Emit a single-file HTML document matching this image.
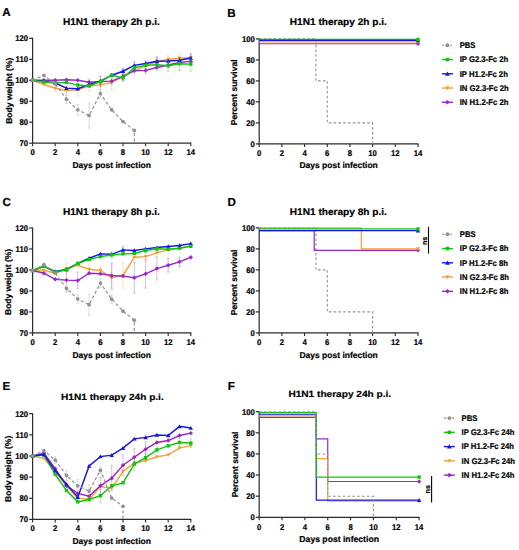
<!DOCTYPE html>
<html><head><meta charset="utf-8"><style>
html,body{margin:0;padding:0;background:#fff;overflow:hidden;width:519px;height:550px;}
svg{display:block;font-family:"Liberation Sans", sans-serif;text-rendering:geometricPrecision;}
</style></head><body>
<svg width="519" height="550" viewBox="0 0 519 550">
<rect width="519" height="550" fill="#fff"/>
<text x="2.30" y="16.40" font-size="11.6" text-anchor="start" font-weight="bold" fill="#000" stroke="#000" stroke-width="0.2">A</text>
<text x="227.20" y="16.80" font-size="11.6" text-anchor="start" font-weight="bold" fill="#000" stroke="#000" stroke-width="0.2">B</text>
<text x="2.40" y="205.80" font-size="11.6" text-anchor="start" font-weight="bold" fill="#000" stroke="#000" stroke-width="0.2">C</text>
<text x="227.50" y="206.00" font-size="11.6" text-anchor="start" font-weight="bold" fill="#000" stroke="#000" stroke-width="0.2">D</text>
<text x="2.50" y="389.80" font-size="11.6" text-anchor="start" font-weight="bold" fill="#000" stroke="#000" stroke-width="0.2">E</text>
<text x="227.80" y="389.60" font-size="11.6" text-anchor="start" font-weight="bold" fill="#000" stroke="#000" stroke-width="0.2">F</text>
<text x="111.40" y="25.10" font-size="10.1" text-anchor="middle" font-weight="bold" fill="#000" stroke="#000" stroke-width="0.2" transform="translate(0 1.004) scale(1 0.96)">H1N1 therapy 2h p.i.</text>
<text x="338.30" y="25.30" font-size="10.1" text-anchor="middle" font-weight="bold" fill="#000" stroke="#000" stroke-width="0.2" transform="translate(0 1.012) scale(1 0.96)">H1N1 therapy 2h p.i.</text>
<text x="111.40" y="214.80" font-size="10.1" text-anchor="middle" font-weight="bold" fill="#000" stroke="#000" stroke-width="0.2" transform="translate(0 8.592) scale(1 0.96)">H1N1 therapy 8h p.i.</text>
<text x="338.30" y="214.80" font-size="10.1" text-anchor="middle" font-weight="bold" fill="#000" stroke="#000" stroke-width="0.2" transform="translate(0 8.592) scale(1 0.96)">H1N1 therapy 8h p.i.</text>
<text x="112.40" y="400.20" font-size="10.1" text-anchor="middle" font-weight="bold" fill="#000" stroke="#000" stroke-width="0.2" transform="translate(0 44.022) scale(1 0.89)">H1N1 therapy 24h p.i.</text>
<text x="339.75" y="397.20" font-size="10.1" text-anchor="middle" font-weight="bold" fill="#000" stroke="#000" stroke-width="0.2" transform="translate(0 43.692) scale(1 0.89)">H1N1 therapy 24h p.i.</text>
<line x1="32.60" y1="37.80" x2="32.60" y2="143.80" stroke="#2a2a2a" stroke-width="1.2" stroke-linecap="butt"/>
<line x1="32.00" y1="143.20" x2="191.30" y2="143.20" stroke="#2a2a2a" stroke-width="1.2" stroke-linecap="butt"/>
<line x1="29.20" y1="143.20" x2="32.60" y2="143.20" stroke="#2a2a2a" stroke-width="1.2" stroke-linecap="butt"/>
<text x="28.00" y="146.10" font-size="7.7" text-anchor="end" font-weight="bold" fill="#000" stroke="#000" stroke-width="0.2" transform="translate(0 -11.688) scale(1 1.08)">70</text>
<line x1="29.20" y1="122.22" x2="32.60" y2="122.22" stroke="#2a2a2a" stroke-width="1.2" stroke-linecap="butt"/>
<text x="28.00" y="125.12" font-size="7.7" text-anchor="end" font-weight="bold" fill="#000" stroke="#000" stroke-width="0.2" transform="translate(0 -10.010) scale(1 1.08)">80</text>
<line x1="29.20" y1="101.24" x2="32.60" y2="101.24" stroke="#2a2a2a" stroke-width="1.2" stroke-linecap="butt"/>
<text x="28.00" y="104.14" font-size="7.7" text-anchor="end" font-weight="bold" fill="#000" stroke="#000" stroke-width="0.2" transform="translate(0 -8.331) scale(1 1.08)">90</text>
<line x1="29.20" y1="80.26" x2="32.60" y2="80.26" stroke="#2a2a2a" stroke-width="1.2" stroke-linecap="butt"/>
<text x="28.00" y="83.16" font-size="7.7" text-anchor="end" font-weight="bold" fill="#000" stroke="#000" stroke-width="0.2" transform="translate(0 -6.653) scale(1 1.08)">100</text>
<line x1="29.20" y1="59.28" x2="32.60" y2="59.28" stroke="#2a2a2a" stroke-width="1.2" stroke-linecap="butt"/>
<text x="28.00" y="62.18" font-size="7.7" text-anchor="end" font-weight="bold" fill="#000" stroke="#000" stroke-width="0.2" transform="translate(0 -4.974) scale(1 1.08)">110</text>
<line x1="29.20" y1="38.30" x2="32.60" y2="38.30" stroke="#2a2a2a" stroke-width="1.2" stroke-linecap="butt"/>
<text x="28.00" y="41.20" font-size="7.7" text-anchor="end" font-weight="bold" fill="#000" stroke="#000" stroke-width="0.2" transform="translate(0 -3.296) scale(1 1.08)">120</text>
<line x1="32.60" y1="143.20" x2="32.60" y2="146.20" stroke="#2a2a2a" stroke-width="1.1" stroke-linecap="butt"/>
<text x="32.60" y="155.00" font-size="7.7" text-anchor="middle" font-weight="bold" fill="#000" stroke="#000" stroke-width="0.2" transform="translate(0 -12.400) scale(1 1.08)">0</text>
<line x1="55.20" y1="143.20" x2="55.20" y2="146.20" stroke="#2a2a2a" stroke-width="1.1" stroke-linecap="butt"/>
<text x="55.20" y="155.00" font-size="7.7" text-anchor="middle" font-weight="bold" fill="#000" stroke="#000" stroke-width="0.2" transform="translate(0 -12.400) scale(1 1.08)">2</text>
<line x1="77.80" y1="143.20" x2="77.80" y2="146.20" stroke="#2a2a2a" stroke-width="1.1" stroke-linecap="butt"/>
<text x="77.80" y="155.00" font-size="7.7" text-anchor="middle" font-weight="bold" fill="#000" stroke="#000" stroke-width="0.2" transform="translate(0 -12.400) scale(1 1.08)">4</text>
<line x1="100.40" y1="143.20" x2="100.40" y2="146.20" stroke="#2a2a2a" stroke-width="1.1" stroke-linecap="butt"/>
<text x="100.40" y="155.00" font-size="7.7" text-anchor="middle" font-weight="bold" fill="#000" stroke="#000" stroke-width="0.2" transform="translate(0 -12.400) scale(1 1.08)">6</text>
<line x1="123.00" y1="143.20" x2="123.00" y2="146.20" stroke="#2a2a2a" stroke-width="1.1" stroke-linecap="butt"/>
<text x="123.00" y="155.00" font-size="7.7" text-anchor="middle" font-weight="bold" fill="#000" stroke="#000" stroke-width="0.2" transform="translate(0 -12.400) scale(1 1.08)">8</text>
<line x1="145.60" y1="143.20" x2="145.60" y2="146.20" stroke="#2a2a2a" stroke-width="1.1" stroke-linecap="butt"/>
<text x="145.60" y="155.00" font-size="7.7" text-anchor="middle" font-weight="bold" fill="#000" stroke="#000" stroke-width="0.2" transform="translate(0 -12.400) scale(1 1.08)">10</text>
<line x1="168.20" y1="143.20" x2="168.20" y2="146.20" stroke="#2a2a2a" stroke-width="1.1" stroke-linecap="butt"/>
<text x="168.20" y="155.00" font-size="7.7" text-anchor="middle" font-weight="bold" fill="#000" stroke="#000" stroke-width="0.2" transform="translate(0 -12.400) scale(1 1.08)">12</text>
<line x1="190.80" y1="143.20" x2="190.80" y2="146.20" stroke="#2a2a2a" stroke-width="1.1" stroke-linecap="butt"/>
<text x="190.80" y="155.00" font-size="7.7" text-anchor="middle" font-weight="bold" fill="#000" stroke="#000" stroke-width="0.2" transform="translate(0 -12.400) scale(1 1.08)">14</text>
<text x="111.70" y="167.70" font-size="8.5" text-anchor="middle" font-weight="bold" fill="#000" stroke="#000" stroke-width="0.2">Days post infection</text>
<text x="11.90" y="90.75" font-size="8.5" text-anchor="middle" font-weight="bold" fill="#000" stroke="#000" stroke-width="0.2" transform="rotate(-90 11.9 90.75)">Body weight (%)</text>
<g opacity="0.45">
<line x1="55.20" y1="85.09" x2="55.20" y2="91.38" stroke="#f5a138" stroke-width="0.7" stroke-linecap="butt"/>
<line x1="53.90" y1="85.09" x2="56.50" y2="85.09" stroke="#f5a138" stroke-width="0.7" stroke-linecap="butt"/>
<line x1="53.90" y1="91.38" x2="56.50" y2="91.38" stroke="#f5a138" stroke-width="0.7" stroke-linecap="butt"/>
</g>
<g opacity="0.45">
<line x1="66.50" y1="85.19" x2="66.50" y2="95.68" stroke="#f5a138" stroke-width="0.7" stroke-linecap="butt"/>
<line x1="65.20" y1="85.19" x2="67.80" y2="85.19" stroke="#f5a138" stroke-width="0.7" stroke-linecap="butt"/>
<line x1="65.20" y1="95.68" x2="67.80" y2="95.68" stroke="#f5a138" stroke-width="0.7" stroke-linecap="butt"/>
</g>
<g opacity="0.45">
<line x1="77.80" y1="83.41" x2="77.80" y2="95.99" stroke="#f5a138" stroke-width="0.7" stroke-linecap="butt"/>
<line x1="76.50" y1="83.41" x2="79.10" y2="83.41" stroke="#f5a138" stroke-width="0.7" stroke-linecap="butt"/>
<line x1="76.50" y1="95.99" x2="79.10" y2="95.99" stroke="#f5a138" stroke-width="0.7" stroke-linecap="butt"/>
</g>
<g opacity="0.45">
<line x1="89.10" y1="80.68" x2="89.10" y2="91.17" stroke="#f5a138" stroke-width="0.7" stroke-linecap="butt"/>
<line x1="87.80" y1="80.68" x2="90.40" y2="80.68" stroke="#f5a138" stroke-width="0.7" stroke-linecap="butt"/>
<line x1="87.80" y1="91.17" x2="90.40" y2="91.17" stroke="#f5a138" stroke-width="0.7" stroke-linecap="butt"/>
</g>
<g opacity="0.45">
<line x1="100.40" y1="76.27" x2="100.40" y2="93.48" stroke="#f5a138" stroke-width="0.7" stroke-linecap="butt"/>
<line x1="99.10" y1="76.27" x2="101.70" y2="76.27" stroke="#f5a138" stroke-width="0.7" stroke-linecap="butt"/>
<line x1="99.10" y1="93.48" x2="101.70" y2="93.48" stroke="#f5a138" stroke-width="0.7" stroke-linecap="butt"/>
</g>
<g opacity="0.45">
<line x1="111.70" y1="75.43" x2="111.70" y2="89.70" stroke="#f5a138" stroke-width="0.7" stroke-linecap="butt"/>
<line x1="110.40" y1="75.43" x2="113.00" y2="75.43" stroke="#f5a138" stroke-width="0.7" stroke-linecap="butt"/>
<line x1="110.40" y1="89.70" x2="113.00" y2="89.70" stroke="#f5a138" stroke-width="0.7" stroke-linecap="butt"/>
</g>
<g opacity="0.45">
<line x1="134.30" y1="65.99" x2="134.30" y2="75.64" stroke="#f5a138" stroke-width="0.7" stroke-linecap="butt"/>
<line x1="133.00" y1="65.99" x2="135.60" y2="65.99" stroke="#f5a138" stroke-width="0.7" stroke-linecap="butt"/>
<line x1="133.00" y1="75.64" x2="135.60" y2="75.64" stroke="#f5a138" stroke-width="0.7" stroke-linecap="butt"/>
</g>
<g opacity="0.45">
<line x1="145.60" y1="62.64" x2="145.60" y2="68.93" stroke="#f5a138" stroke-width="0.7" stroke-linecap="butt"/>
<line x1="144.30" y1="62.64" x2="146.90" y2="62.64" stroke="#f5a138" stroke-width="0.7" stroke-linecap="butt"/>
<line x1="144.30" y1="68.93" x2="146.90" y2="68.93" stroke="#f5a138" stroke-width="0.7" stroke-linecap="butt"/>
</g>
<g opacity="0.45">
<line x1="156.90" y1="57.81" x2="156.90" y2="65.36" stroke="#f5a138" stroke-width="0.7" stroke-linecap="butt"/>
<line x1="155.60" y1="57.81" x2="158.20" y2="57.81" stroke="#f5a138" stroke-width="0.7" stroke-linecap="butt"/>
<line x1="155.60" y1="65.36" x2="158.20" y2="65.36" stroke="#f5a138" stroke-width="0.7" stroke-linecap="butt"/>
</g>
<g opacity="0.45">
<line x1="168.20" y1="55.92" x2="168.20" y2="62.64" stroke="#f5a138" stroke-width="0.7" stroke-linecap="butt"/>
<line x1="166.90" y1="55.92" x2="169.50" y2="55.92" stroke="#f5a138" stroke-width="0.7" stroke-linecap="butt"/>
<line x1="166.90" y1="62.64" x2="169.50" y2="62.64" stroke="#f5a138" stroke-width="0.7" stroke-linecap="butt"/>
</g>
<g opacity="0.45">
<line x1="179.50" y1="53.62" x2="179.50" y2="62.85" stroke="#f5a138" stroke-width="0.7" stroke-linecap="butt"/>
<line x1="178.20" y1="53.62" x2="180.80" y2="53.62" stroke="#f5a138" stroke-width="0.7" stroke-linecap="butt"/>
<line x1="178.20" y1="62.85" x2="180.80" y2="62.85" stroke="#f5a138" stroke-width="0.7" stroke-linecap="butt"/>
</g>
<g opacity="0.45">
<line x1="190.80" y1="52.99" x2="190.80" y2="62.22" stroke="#f5a138" stroke-width="0.7" stroke-linecap="butt"/>
<line x1="189.50" y1="52.99" x2="192.10" y2="52.99" stroke="#f5a138" stroke-width="0.7" stroke-linecap="butt"/>
<line x1="189.50" y1="62.22" x2="192.10" y2="62.22" stroke="#f5a138" stroke-width="0.7" stroke-linecap="butt"/>
</g>
<polyline points="32.60,80.26 43.90,84.56 55.20,88.23 66.50,90.44 77.80,89.70 89.10,85.92 100.40,84.88 111.70,82.57 123.00,76.06 134.30,70.82 145.60,65.78 156.90,61.59 168.20,59.28 179.50,58.23 190.80,57.60" fill="none" stroke="#f5a138" stroke-width="1.45" stroke-linejoin="miter"/>
<polygon points="32.60,82.26 34.60,78.66 30.60,78.66" fill="#f5a138"/>
<polygon points="43.90,86.56 45.90,82.96 41.90,82.96" fill="#f5a138"/>
<polygon points="55.20,90.23 57.20,86.63 53.20,86.63" fill="#f5a138"/>
<polygon points="66.50,92.44 68.50,88.84 64.50,88.84" fill="#f5a138"/>
<polygon points="77.80,91.70 79.80,88.10 75.80,88.10" fill="#f5a138"/>
<polygon points="89.10,87.92 91.10,84.32 87.10,84.32" fill="#f5a138"/>
<polygon points="100.40,86.88 102.40,83.28 98.40,83.28" fill="#f5a138"/>
<polygon points="111.70,84.57 113.70,80.97 109.70,80.97" fill="#f5a138"/>
<polygon points="123.00,78.06 125.00,74.46 121.00,74.46" fill="#f5a138"/>
<polygon points="134.30,72.82 136.30,69.22 132.30,69.22" fill="#f5a138"/>
<polygon points="145.60,67.78 147.60,64.18 143.60,64.18" fill="#f5a138"/>
<polygon points="156.90,63.59 158.90,59.99 154.90,59.99" fill="#f5a138"/>
<polygon points="168.20,61.28 170.20,57.68 166.20,57.68" fill="#f5a138"/>
<polygon points="179.50,60.23 181.50,56.63 177.50,56.63" fill="#f5a138"/>
<polygon points="190.80,59.60 192.80,56.00 188.80,56.00" fill="#f5a138"/>
<g opacity="0.45">
<line x1="89.10" y1="79.00" x2="89.10" y2="85.30" stroke="#9a28c8" stroke-width="0.7" stroke-linecap="butt"/>
<line x1="87.80" y1="79.00" x2="90.40" y2="79.00" stroke="#9a28c8" stroke-width="0.7" stroke-linecap="butt"/>
<line x1="87.80" y1="85.30" x2="90.40" y2="85.30" stroke="#9a28c8" stroke-width="0.7" stroke-linecap="butt"/>
</g>
<g opacity="0.45">
<line x1="100.40" y1="76.27" x2="100.40" y2="86.76" stroke="#9a28c8" stroke-width="0.7" stroke-linecap="butt"/>
<line x1="99.10" y1="76.27" x2="101.70" y2="76.27" stroke="#9a28c8" stroke-width="0.7" stroke-linecap="butt"/>
<line x1="99.10" y1="86.76" x2="101.70" y2="86.76" stroke="#9a28c8" stroke-width="0.7" stroke-linecap="butt"/>
</g>
<g opacity="0.45">
<line x1="111.70" y1="77.95" x2="111.70" y2="84.25" stroke="#9a28c8" stroke-width="0.7" stroke-linecap="butt"/>
<line x1="110.40" y1="77.95" x2="113.00" y2="77.95" stroke="#9a28c8" stroke-width="0.7" stroke-linecap="butt"/>
<line x1="110.40" y1="84.25" x2="113.00" y2="84.25" stroke="#9a28c8" stroke-width="0.7" stroke-linecap="butt"/>
</g>
<g opacity="0.45">
<line x1="123.00" y1="72.29" x2="123.00" y2="80.68" stroke="#9a28c8" stroke-width="0.7" stroke-linecap="butt"/>
<line x1="121.70" y1="72.29" x2="124.30" y2="72.29" stroke="#9a28c8" stroke-width="0.7" stroke-linecap="butt"/>
<line x1="121.70" y1="80.68" x2="124.30" y2="80.68" stroke="#9a28c8" stroke-width="0.7" stroke-linecap="butt"/>
</g>
<g opacity="0.45">
<line x1="145.60" y1="67.04" x2="145.60" y2="73.76" stroke="#9a28c8" stroke-width="0.7" stroke-linecap="butt"/>
<line x1="144.30" y1="67.04" x2="146.90" y2="67.04" stroke="#9a28c8" stroke-width="0.7" stroke-linecap="butt"/>
<line x1="144.30" y1="73.76" x2="146.90" y2="73.76" stroke="#9a28c8" stroke-width="0.7" stroke-linecap="butt"/>
</g>
<polyline points="32.60,80.26 43.90,80.26 55.20,80.20 66.50,79.76 77.80,80.26 89.10,82.15 100.40,81.52 111.70,81.10 123.00,76.48 134.30,70.71 145.60,70.40 156.90,67.46 168.20,64.94 179.50,62.43 190.80,61.38" fill="none" stroke="#9a28c8" stroke-width="1.45" stroke-linejoin="miter"/>
<polygon points="32.60,78.06 34.80,80.26 32.60,82.46 30.40,80.26" fill="#9a28c8"/>
<polygon points="43.90,78.06 46.10,80.26 43.90,82.46 41.70,80.26" fill="#9a28c8"/>
<polygon points="55.20,78.00 57.40,80.20 55.20,82.40 53.00,80.20" fill="#9a28c8"/>
<polygon points="66.50,77.56 68.70,79.76 66.50,81.96 64.30,79.76" fill="#9a28c8"/>
<polygon points="77.80,78.06 80.00,80.26 77.80,82.46 75.60,80.26" fill="#9a28c8"/>
<polygon points="89.10,79.95 91.30,82.15 89.10,84.35 86.90,82.15" fill="#9a28c8"/>
<polygon points="100.40,79.32 102.60,81.52 100.40,83.72 98.20,81.52" fill="#9a28c8"/>
<polygon points="111.70,78.90 113.90,81.10 111.70,83.30 109.50,81.10" fill="#9a28c8"/>
<polygon points="123.00,74.28 125.20,76.48 123.00,78.68 120.80,76.48" fill="#9a28c8"/>
<polygon points="134.30,68.51 136.50,70.71 134.30,72.91 132.10,70.71" fill="#9a28c8"/>
<polygon points="145.60,68.20 147.80,70.40 145.60,72.60 143.40,70.40" fill="#9a28c8"/>
<polygon points="156.90,65.26 159.10,67.46 156.90,69.66 154.70,67.46" fill="#9a28c8"/>
<polygon points="168.20,62.74 170.40,64.94 168.20,67.14 166.00,64.94" fill="#9a28c8"/>
<polygon points="179.50,60.23 181.70,62.43 179.50,64.63 177.30,62.43" fill="#9a28c8"/>
<polygon points="190.80,59.18 193.00,61.38 190.80,63.58 188.60,61.38" fill="#9a28c8"/>
<g opacity="0.45">
<line x1="123.00" y1="68.30" x2="123.00" y2="74.18" stroke="#1414e6" stroke-width="0.7" stroke-linecap="butt"/>
<line x1="121.70" y1="68.30" x2="124.30" y2="68.30" stroke="#1414e6" stroke-width="0.7" stroke-linecap="butt"/>
<line x1="121.70" y1="74.18" x2="124.30" y2="74.18" stroke="#1414e6" stroke-width="0.7" stroke-linecap="butt"/>
</g>
<g opacity="0.45">
<line x1="134.30" y1="61.80" x2="134.30" y2="68.93" stroke="#1414e6" stroke-width="0.7" stroke-linecap="butt"/>
<line x1="133.00" y1="61.80" x2="135.60" y2="61.80" stroke="#1414e6" stroke-width="0.7" stroke-linecap="butt"/>
<line x1="133.00" y1="68.93" x2="135.60" y2="68.93" stroke="#1414e6" stroke-width="0.7" stroke-linecap="butt"/>
</g>
<g opacity="0.45">
<line x1="145.60" y1="60.96" x2="145.60" y2="65.99" stroke="#1414e6" stroke-width="0.7" stroke-linecap="butt"/>
<line x1="144.30" y1="60.96" x2="146.90" y2="60.96" stroke="#1414e6" stroke-width="0.7" stroke-linecap="butt"/>
<line x1="144.30" y1="65.99" x2="146.90" y2="65.99" stroke="#1414e6" stroke-width="0.7" stroke-linecap="butt"/>
</g>
<g opacity="0.45">
<line x1="156.90" y1="56.97" x2="156.90" y2="65.36" stroke="#1414e6" stroke-width="0.7" stroke-linecap="butt"/>
<line x1="155.60" y1="56.97" x2="158.20" y2="56.97" stroke="#1414e6" stroke-width="0.7" stroke-linecap="butt"/>
<line x1="155.60" y1="65.36" x2="158.20" y2="65.36" stroke="#1414e6" stroke-width="0.7" stroke-linecap="butt"/>
</g>
<g opacity="0.45">
<line x1="179.50" y1="57.71" x2="179.50" y2="62.74" stroke="#1414e6" stroke-width="0.7" stroke-linecap="butt"/>
<line x1="178.20" y1="57.71" x2="180.80" y2="57.71" stroke="#1414e6" stroke-width="0.7" stroke-linecap="butt"/>
<line x1="178.20" y1="62.74" x2="180.80" y2="62.74" stroke="#1414e6" stroke-width="0.7" stroke-linecap="butt"/>
</g>
<g opacity="0.45">
<line x1="190.80" y1="54.24" x2="190.80" y2="61.80" stroke="#1414e6" stroke-width="0.7" stroke-linecap="butt"/>
<line x1="189.50" y1="54.24" x2="192.10" y2="54.24" stroke="#1414e6" stroke-width="0.7" stroke-linecap="butt"/>
<line x1="189.50" y1="61.80" x2="192.10" y2="61.80" stroke="#1414e6" stroke-width="0.7" stroke-linecap="butt"/>
</g>
<polyline points="32.60,80.26 43.90,81.10 55.20,82.99 66.50,88.13 77.80,88.65 89.10,84.46 100.40,81.10 111.70,75.22 123.00,71.24 134.30,65.36 145.60,63.48 156.90,61.17 168.20,60.96 179.50,60.22 190.80,58.02" fill="none" stroke="#1414e6" stroke-width="1.45" stroke-linejoin="miter"/>
<polygon points="32.60,78.06 34.80,82.02 30.40,82.02" fill="#1414e6"/>
<polygon points="43.90,78.90 46.10,82.86 41.70,82.86" fill="#1414e6"/>
<polygon points="55.20,80.79 57.40,84.75 53.00,84.75" fill="#1414e6"/>
<polygon points="66.50,85.93 68.70,89.89 64.30,89.89" fill="#1414e6"/>
<polygon points="77.80,86.45 80.00,90.41 75.60,90.41" fill="#1414e6"/>
<polygon points="89.10,82.26 91.30,86.22 86.90,86.22" fill="#1414e6"/>
<polygon points="100.40,78.90 102.60,82.86 98.20,82.86" fill="#1414e6"/>
<polygon points="111.70,73.02 113.90,76.98 109.50,76.98" fill="#1414e6"/>
<polygon points="123.00,69.04 125.20,73.00 120.80,73.00" fill="#1414e6"/>
<polygon points="134.30,63.16 136.50,67.12 132.10,67.12" fill="#1414e6"/>
<polygon points="145.60,61.28 147.80,65.24 143.40,65.24" fill="#1414e6"/>
<polygon points="156.90,58.97 159.10,62.93 154.70,62.93" fill="#1414e6"/>
<polygon points="168.20,58.76 170.40,62.72 166.00,62.72" fill="#1414e6"/>
<polygon points="179.50,58.02 181.70,61.98 177.30,61.98" fill="#1414e6"/>
<polygon points="190.80,55.82 193.00,59.78 188.60,59.78" fill="#1414e6"/>
<g opacity="0.45">
<line x1="123.00" y1="74.81" x2="123.00" y2="81.10" stroke="#12c412" stroke-width="0.7" stroke-linecap="butt"/>
<line x1="121.70" y1="74.81" x2="124.30" y2="74.81" stroke="#12c412" stroke-width="0.7" stroke-linecap="butt"/>
<line x1="121.70" y1="81.10" x2="124.30" y2="81.10" stroke="#12c412" stroke-width="0.7" stroke-linecap="butt"/>
</g>
<g opacity="0.45">
<line x1="156.90" y1="59.38" x2="156.90" y2="70.29" stroke="#12c412" stroke-width="0.7" stroke-linecap="butt"/>
<line x1="155.60" y1="59.38" x2="158.20" y2="59.38" stroke="#12c412" stroke-width="0.7" stroke-linecap="butt"/>
<line x1="155.60" y1="70.29" x2="158.20" y2="70.29" stroke="#12c412" stroke-width="0.7" stroke-linecap="butt"/>
</g>
<g opacity="0.45">
<line x1="168.20" y1="60.12" x2="168.20" y2="71.45" stroke="#12c412" stroke-width="0.7" stroke-linecap="butt"/>
<line x1="166.90" y1="60.12" x2="169.50" y2="60.12" stroke="#12c412" stroke-width="0.7" stroke-linecap="butt"/>
<line x1="166.90" y1="71.45" x2="169.50" y2="71.45" stroke="#12c412" stroke-width="0.7" stroke-linecap="butt"/>
</g>
<g opacity="0.45">
<line x1="179.50" y1="56.97" x2="179.50" y2="70.40" stroke="#12c412" stroke-width="0.7" stroke-linecap="butt"/>
<line x1="178.20" y1="56.97" x2="180.80" y2="56.97" stroke="#12c412" stroke-width="0.7" stroke-linecap="butt"/>
<line x1="178.20" y1="70.40" x2="180.80" y2="70.40" stroke="#12c412" stroke-width="0.7" stroke-linecap="butt"/>
</g>
<g opacity="0.45">
<line x1="190.80" y1="56.97" x2="190.80" y2="71.24" stroke="#12c412" stroke-width="0.7" stroke-linecap="butt"/>
<line x1="189.50" y1="56.97" x2="192.10" y2="56.97" stroke="#12c412" stroke-width="0.7" stroke-linecap="butt"/>
<line x1="189.50" y1="71.24" x2="192.10" y2="71.24" stroke="#12c412" stroke-width="0.7" stroke-linecap="butt"/>
</g>
<polyline points="32.60,80.26 43.90,82.04 55.20,82.67 66.50,82.36 77.80,85.09 89.10,85.92 100.40,81.52 111.70,75.01 123.00,77.95 134.30,67.67 145.60,65.36 156.90,64.84 168.20,65.78 179.50,63.69 190.80,64.11" fill="none" stroke="#12c412" stroke-width="1.45" stroke-linejoin="miter"/>
<rect x="30.90" y="78.56" width="3.40" height="3.40" fill="#12c412"/>
<rect x="42.20" y="80.34" width="3.40" height="3.40" fill="#12c412"/>
<rect x="53.50" y="80.97" width="3.40" height="3.40" fill="#12c412"/>
<rect x="64.80" y="80.66" width="3.40" height="3.40" fill="#12c412"/>
<rect x="76.10" y="83.39" width="3.40" height="3.40" fill="#12c412"/>
<rect x="87.40" y="84.22" width="3.40" height="3.40" fill="#12c412"/>
<rect x="98.70" y="79.82" width="3.40" height="3.40" fill="#12c412"/>
<rect x="110.00" y="73.31" width="3.40" height="3.40" fill="#12c412"/>
<rect x="121.30" y="76.25" width="3.40" height="3.40" fill="#12c412"/>
<rect x="132.60" y="65.97" width="3.40" height="3.40" fill="#12c412"/>
<rect x="143.90" y="63.66" width="3.40" height="3.40" fill="#12c412"/>
<rect x="155.20" y="63.14" width="3.40" height="3.40" fill="#12c412"/>
<rect x="166.50" y="64.08" width="3.40" height="3.40" fill="#12c412"/>
<rect x="177.80" y="61.99" width="3.40" height="3.40" fill="#12c412"/>
<rect x="189.10" y="62.41" width="3.40" height="3.40" fill="#12c412"/>
<g opacity="0.45">
<line x1="66.50" y1="95.16" x2="66.50" y2="103.55" stroke="#929292" stroke-width="0.7" stroke-linecap="butt"/>
<line x1="65.20" y1="95.16" x2="67.80" y2="95.16" stroke="#929292" stroke-width="0.7" stroke-linecap="butt"/>
<line x1="65.20" y1="103.55" x2="67.80" y2="103.55" stroke="#929292" stroke-width="0.7" stroke-linecap="butt"/>
</g>
<g opacity="0.45">
<line x1="77.80" y1="104.60" x2="77.80" y2="115.09" stroke="#929292" stroke-width="0.7" stroke-linecap="butt"/>
<line x1="76.50" y1="104.60" x2="79.10" y2="104.60" stroke="#929292" stroke-width="0.7" stroke-linecap="butt"/>
<line x1="76.50" y1="115.09" x2="79.10" y2="115.09" stroke="#929292" stroke-width="0.7" stroke-linecap="butt"/>
</g>
<g opacity="0.45">
<line x1="89.10" y1="102.92" x2="89.10" y2="128.09" stroke="#929292" stroke-width="0.7" stroke-linecap="butt"/>
<line x1="87.80" y1="102.92" x2="90.40" y2="102.92" stroke="#929292" stroke-width="0.7" stroke-linecap="butt"/>
<line x1="87.80" y1="128.09" x2="90.40" y2="128.09" stroke="#929292" stroke-width="0.7" stroke-linecap="butt"/>
</g>
<g opacity="0.45">
<line x1="100.40" y1="89.49" x2="100.40" y2="97.88" stroke="#929292" stroke-width="0.7" stroke-linecap="butt"/>
<line x1="99.10" y1="89.49" x2="101.70" y2="89.49" stroke="#929292" stroke-width="0.7" stroke-linecap="butt"/>
<line x1="99.10" y1="97.88" x2="101.70" y2="97.88" stroke="#929292" stroke-width="0.7" stroke-linecap="butt"/>
</g>
<polyline points="32.60,80.26 43.90,75.43 55.20,83.83 66.50,99.35 77.80,109.84 89.10,115.51 100.40,93.69 111.70,109.84 123.00,121.59 134.30,130.40 134.30,143.20" fill="none" stroke="#929292" stroke-width="1.2" stroke-dasharray="3.2,2.2" stroke-linejoin="miter"/>
<circle cx="32.60" cy="80.26" r="1.85" fill="#929292"/>
<circle cx="43.90" cy="75.43" r="1.85" fill="#929292"/>
<circle cx="55.20" cy="83.83" r="1.85" fill="#929292"/>
<circle cx="66.50" cy="99.35" r="1.85" fill="#929292"/>
<circle cx="77.80" cy="109.84" r="1.85" fill="#929292"/>
<circle cx="89.10" cy="115.51" r="1.85" fill="#929292"/>
<circle cx="100.40" cy="93.69" r="1.85" fill="#929292"/>
<circle cx="111.70" cy="109.84" r="1.85" fill="#929292"/>
<circle cx="123.00" cy="121.59" r="1.85" fill="#929292"/>
<circle cx="134.30" cy="130.40" r="1.85" fill="#929292"/>
<line x1="32.60" y1="227.50" x2="32.60" y2="333.50" stroke="#2a2a2a" stroke-width="1.2" stroke-linecap="butt"/>
<line x1="32.00" y1="332.90" x2="191.30" y2="332.90" stroke="#2a2a2a" stroke-width="1.2" stroke-linecap="butt"/>
<line x1="29.20" y1="332.90" x2="32.60" y2="332.90" stroke="#2a2a2a" stroke-width="1.2" stroke-linecap="butt"/>
<text x="28.00" y="335.80" font-size="7.7" text-anchor="end" font-weight="bold" fill="#000" stroke="#000" stroke-width="0.2" transform="translate(0 -26.864) scale(1 1.08)">70</text>
<line x1="29.20" y1="311.92" x2="32.60" y2="311.92" stroke="#2a2a2a" stroke-width="1.2" stroke-linecap="butt"/>
<text x="28.00" y="314.82" font-size="7.7" text-anchor="end" font-weight="bold" fill="#000" stroke="#000" stroke-width="0.2" transform="translate(0 -25.186) scale(1 1.08)">80</text>
<line x1="29.20" y1="290.94" x2="32.60" y2="290.94" stroke="#2a2a2a" stroke-width="1.2" stroke-linecap="butt"/>
<text x="28.00" y="293.84" font-size="7.7" text-anchor="end" font-weight="bold" fill="#000" stroke="#000" stroke-width="0.2" transform="translate(0 -23.507) scale(1 1.08)">90</text>
<line x1="29.20" y1="269.96" x2="32.60" y2="269.96" stroke="#2a2a2a" stroke-width="1.2" stroke-linecap="butt"/>
<text x="28.00" y="272.86" font-size="7.7" text-anchor="end" font-weight="bold" fill="#000" stroke="#000" stroke-width="0.2" transform="translate(0 -21.829) scale(1 1.08)">100</text>
<line x1="29.20" y1="248.98" x2="32.60" y2="248.98" stroke="#2a2a2a" stroke-width="1.2" stroke-linecap="butt"/>
<text x="28.00" y="251.88" font-size="7.7" text-anchor="end" font-weight="bold" fill="#000" stroke="#000" stroke-width="0.2" transform="translate(0 -20.150) scale(1 1.08)">110</text>
<line x1="29.20" y1="228.00" x2="32.60" y2="228.00" stroke="#2a2a2a" stroke-width="1.2" stroke-linecap="butt"/>
<text x="28.00" y="230.90" font-size="7.7" text-anchor="end" font-weight="bold" fill="#000" stroke="#000" stroke-width="0.2" transform="translate(0 -18.472) scale(1 1.08)">120</text>
<line x1="32.60" y1="332.90" x2="32.60" y2="335.90" stroke="#2a2a2a" stroke-width="1.1" stroke-linecap="butt"/>
<text x="32.60" y="344.70" font-size="7.7" text-anchor="middle" font-weight="bold" fill="#000" stroke="#000" stroke-width="0.2" transform="translate(0 -27.576) scale(1 1.08)">0</text>
<line x1="55.20" y1="332.90" x2="55.20" y2="335.90" stroke="#2a2a2a" stroke-width="1.1" stroke-linecap="butt"/>
<text x="55.20" y="344.70" font-size="7.7" text-anchor="middle" font-weight="bold" fill="#000" stroke="#000" stroke-width="0.2" transform="translate(0 -27.576) scale(1 1.08)">2</text>
<line x1="77.80" y1="332.90" x2="77.80" y2="335.90" stroke="#2a2a2a" stroke-width="1.1" stroke-linecap="butt"/>
<text x="77.80" y="344.70" font-size="7.7" text-anchor="middle" font-weight="bold" fill="#000" stroke="#000" stroke-width="0.2" transform="translate(0 -27.576) scale(1 1.08)">4</text>
<line x1="100.40" y1="332.90" x2="100.40" y2="335.90" stroke="#2a2a2a" stroke-width="1.1" stroke-linecap="butt"/>
<text x="100.40" y="344.70" font-size="7.7" text-anchor="middle" font-weight="bold" fill="#000" stroke="#000" stroke-width="0.2" transform="translate(0 -27.576) scale(1 1.08)">6</text>
<line x1="123.00" y1="332.90" x2="123.00" y2="335.90" stroke="#2a2a2a" stroke-width="1.1" stroke-linecap="butt"/>
<text x="123.00" y="344.70" font-size="7.7" text-anchor="middle" font-weight="bold" fill="#000" stroke="#000" stroke-width="0.2" transform="translate(0 -27.576) scale(1 1.08)">8</text>
<line x1="145.60" y1="332.90" x2="145.60" y2="335.90" stroke="#2a2a2a" stroke-width="1.1" stroke-linecap="butt"/>
<text x="145.60" y="344.70" font-size="7.7" text-anchor="middle" font-weight="bold" fill="#000" stroke="#000" stroke-width="0.2" transform="translate(0 -27.576) scale(1 1.08)">10</text>
<line x1="168.20" y1="332.90" x2="168.20" y2="335.90" stroke="#2a2a2a" stroke-width="1.1" stroke-linecap="butt"/>
<text x="168.20" y="344.70" font-size="7.7" text-anchor="middle" font-weight="bold" fill="#000" stroke="#000" stroke-width="0.2" transform="translate(0 -27.576) scale(1 1.08)">12</text>
<line x1="190.80" y1="332.90" x2="190.80" y2="335.90" stroke="#2a2a2a" stroke-width="1.1" stroke-linecap="butt"/>
<text x="190.80" y="344.70" font-size="7.7" text-anchor="middle" font-weight="bold" fill="#000" stroke="#000" stroke-width="0.2" transform="translate(0 -27.576) scale(1 1.08)">14</text>
<text x="111.70" y="358.10" font-size="8.5" text-anchor="middle" font-weight="bold" fill="#000" stroke="#000" stroke-width="0.2">Days post infection</text>
<text x="10.90" y="281.95" font-size="8.5" text-anchor="middle" font-weight="bold" fill="#000" stroke="#000" stroke-width="0.2" transform="rotate(-90 10.9 281.95)">Body weight (%)</text>
<g opacity="0.45">
<line x1="66.50" y1="263.33" x2="66.50" y2="273.82" stroke="#f5a138" stroke-width="0.7" stroke-linecap="butt"/>
<line x1="65.20" y1="263.33" x2="67.80" y2="263.33" stroke="#f5a138" stroke-width="0.7" stroke-linecap="butt"/>
<line x1="65.20" y1="273.82" x2="67.80" y2="273.82" stroke="#f5a138" stroke-width="0.7" stroke-linecap="butt"/>
</g>
<g opacity="0.45">
<line x1="89.10" y1="265.21" x2="89.10" y2="273.61" stroke="#f5a138" stroke-width="0.7" stroke-linecap="butt"/>
<line x1="87.80" y1="265.21" x2="90.40" y2="265.21" stroke="#f5a138" stroke-width="0.7" stroke-linecap="butt"/>
<line x1="87.80" y1="273.61" x2="90.40" y2="273.61" stroke="#f5a138" stroke-width="0.7" stroke-linecap="butt"/>
</g>
<g opacity="0.45">
<line x1="100.40" y1="266.26" x2="100.40" y2="274.66" stroke="#f5a138" stroke-width="0.7" stroke-linecap="butt"/>
<line x1="99.10" y1="266.26" x2="101.70" y2="266.26" stroke="#f5a138" stroke-width="0.7" stroke-linecap="butt"/>
<line x1="99.10" y1="274.66" x2="101.70" y2="274.66" stroke="#f5a138" stroke-width="0.7" stroke-linecap="butt"/>
</g>
<g opacity="0.45">
<line x1="111.70" y1="265.21" x2="111.70" y2="290.39" stroke="#f5a138" stroke-width="0.7" stroke-linecap="butt"/>
<line x1="110.40" y1="265.21" x2="113.00" y2="265.21" stroke="#f5a138" stroke-width="0.7" stroke-linecap="butt"/>
<line x1="110.40" y1="290.39" x2="113.00" y2="290.39" stroke="#f5a138" stroke-width="0.7" stroke-linecap="butt"/>
</g>
<g opacity="0.45">
<line x1="123.00" y1="262.91" x2="123.00" y2="288.08" stroke="#f5a138" stroke-width="0.7" stroke-linecap="butt"/>
<line x1="121.70" y1="262.91" x2="124.30" y2="262.91" stroke="#f5a138" stroke-width="0.7" stroke-linecap="butt"/>
<line x1="121.70" y1="288.08" x2="124.30" y2="288.08" stroke="#f5a138" stroke-width="0.7" stroke-linecap="butt"/>
</g>
<g opacity="0.45">
<line x1="145.60" y1="252.42" x2="145.60" y2="260.81" stroke="#f5a138" stroke-width="0.7" stroke-linecap="butt"/>
<line x1="144.30" y1="252.42" x2="146.90" y2="252.42" stroke="#f5a138" stroke-width="0.7" stroke-linecap="butt"/>
<line x1="144.30" y1="260.81" x2="146.90" y2="260.81" stroke="#f5a138" stroke-width="0.7" stroke-linecap="butt"/>
</g>
<g opacity="0.45">
<line x1="156.90" y1="249.69" x2="156.90" y2="255.98" stroke="#f5a138" stroke-width="0.7" stroke-linecap="butt"/>
<line x1="155.60" y1="249.69" x2="158.20" y2="249.69" stroke="#f5a138" stroke-width="0.7" stroke-linecap="butt"/>
<line x1="155.60" y1="255.98" x2="158.20" y2="255.98" stroke="#f5a138" stroke-width="0.7" stroke-linecap="butt"/>
</g>
<polyline points="32.60,270.46 43.90,270.25 55.20,273.19 66.50,268.57 77.80,265.21 89.10,269.41 100.40,270.46 111.70,277.80 123.00,275.50 134.30,257.24 145.60,256.61 156.90,252.84 168.20,249.90 179.50,248.22 190.80,245.91" fill="none" stroke="#f5a138" stroke-width="1.45" stroke-linejoin="miter"/>
<polygon points="32.60,272.46 34.60,268.86 30.60,268.86" fill="#f5a138"/>
<polygon points="43.90,272.25 45.90,268.65 41.90,268.65" fill="#f5a138"/>
<polygon points="55.20,275.19 57.20,271.59 53.20,271.59" fill="#f5a138"/>
<polygon points="66.50,270.57 68.50,266.97 64.50,266.97" fill="#f5a138"/>
<polygon points="77.80,267.21 79.80,263.61 75.80,263.61" fill="#f5a138"/>
<polygon points="89.10,271.41 91.10,267.81 87.10,267.81" fill="#f5a138"/>
<polygon points="100.40,272.46 102.40,268.86 98.40,268.86" fill="#f5a138"/>
<polygon points="111.70,279.80 113.70,276.20 109.70,276.20" fill="#f5a138"/>
<polygon points="123.00,277.50 125.00,273.90 121.00,273.90" fill="#f5a138"/>
<polygon points="134.30,259.24 136.30,255.64 132.30,255.64" fill="#f5a138"/>
<polygon points="145.60,258.61 147.60,255.01 143.60,255.01" fill="#f5a138"/>
<polygon points="156.90,254.84 158.90,251.24 154.90,251.24" fill="#f5a138"/>
<polygon points="168.20,251.90 170.20,248.30 166.20,248.30" fill="#f5a138"/>
<polygon points="179.50,250.22 181.50,246.62 177.50,246.62" fill="#f5a138"/>
<polygon points="190.80,247.91 192.80,244.31 188.80,244.31" fill="#f5a138"/>
<g opacity="0.45">
<line x1="66.50" y1="268.78" x2="66.50" y2="291.44" stroke="#9a28c8" stroke-width="0.7" stroke-linecap="butt"/>
<line x1="65.20" y1="268.78" x2="67.80" y2="268.78" stroke="#9a28c8" stroke-width="0.7" stroke-linecap="butt"/>
<line x1="65.20" y1="291.44" x2="67.80" y2="291.44" stroke="#9a28c8" stroke-width="0.7" stroke-linecap="butt"/>
</g>
<g opacity="0.45">
<line x1="77.80" y1="272.14" x2="77.80" y2="288.92" stroke="#9a28c8" stroke-width="0.7" stroke-linecap="butt"/>
<line x1="76.50" y1="272.14" x2="79.10" y2="272.14" stroke="#9a28c8" stroke-width="0.7" stroke-linecap="butt"/>
<line x1="76.50" y1="288.92" x2="79.10" y2="288.92" stroke="#9a28c8" stroke-width="0.7" stroke-linecap="butt"/>
</g>
<g opacity="0.45">
<line x1="111.70" y1="262.91" x2="111.70" y2="288.08" stroke="#9a28c8" stroke-width="0.7" stroke-linecap="butt"/>
<line x1="110.40" y1="262.91" x2="113.00" y2="262.91" stroke="#9a28c8" stroke-width="0.7" stroke-linecap="butt"/>
<line x1="110.40" y1="288.08" x2="113.00" y2="288.08" stroke="#9a28c8" stroke-width="0.7" stroke-linecap="butt"/>
</g>
<g opacity="0.45">
<line x1="134.30" y1="262.49" x2="134.30" y2="293.12" stroke="#9a28c8" stroke-width="0.7" stroke-linecap="butt"/>
<line x1="133.00" y1="262.49" x2="135.60" y2="262.49" stroke="#9a28c8" stroke-width="0.7" stroke-linecap="butt"/>
<line x1="133.00" y1="293.12" x2="135.60" y2="293.12" stroke="#9a28c8" stroke-width="0.7" stroke-linecap="butt"/>
</g>
<g opacity="0.45">
<line x1="145.60" y1="259.55" x2="145.60" y2="288.08" stroke="#9a28c8" stroke-width="0.7" stroke-linecap="butt"/>
<line x1="144.30" y1="259.55" x2="146.90" y2="259.55" stroke="#9a28c8" stroke-width="0.7" stroke-linecap="butt"/>
<line x1="144.30" y1="288.08" x2="146.90" y2="288.08" stroke="#9a28c8" stroke-width="0.7" stroke-linecap="butt"/>
</g>
<g opacity="0.45">
<line x1="156.90" y1="257.24" x2="156.90" y2="279.90" stroke="#9a28c8" stroke-width="0.7" stroke-linecap="butt"/>
<line x1="155.60" y1="257.24" x2="158.20" y2="257.24" stroke="#9a28c8" stroke-width="0.7" stroke-linecap="butt"/>
<line x1="155.60" y1="279.90" x2="158.20" y2="279.90" stroke="#9a28c8" stroke-width="0.7" stroke-linecap="butt"/>
</g>
<g opacity="0.45">
<line x1="168.20" y1="258.50" x2="168.20" y2="271.93" stroke="#9a28c8" stroke-width="0.7" stroke-linecap="butt"/>
<line x1="166.90" y1="258.50" x2="169.50" y2="258.50" stroke="#9a28c8" stroke-width="0.7" stroke-linecap="butt"/>
<line x1="166.90" y1="271.93" x2="169.50" y2="271.93" stroke="#9a28c8" stroke-width="0.7" stroke-linecap="butt"/>
</g>
<g opacity="0.45">
<line x1="179.50" y1="257.24" x2="179.50" y2="266.47" stroke="#9a28c8" stroke-width="0.7" stroke-linecap="butt"/>
<line x1="178.20" y1="257.24" x2="180.80" y2="257.24" stroke="#9a28c8" stroke-width="0.7" stroke-linecap="butt"/>
<line x1="178.20" y1="266.47" x2="180.80" y2="266.47" stroke="#9a28c8" stroke-width="0.7" stroke-linecap="butt"/>
</g>
<polyline points="32.60,270.46 43.90,273.19 55.20,279.27 66.50,280.11 77.80,280.53 89.10,273.19 100.40,273.82 111.70,275.50 123.00,276.12 134.30,277.80 145.60,273.82 156.90,268.57 168.20,265.21 179.50,261.86 190.80,257.24" fill="none" stroke="#9a28c8" stroke-width="1.45" stroke-linejoin="miter"/>
<polygon points="32.60,268.26 34.80,270.46 32.60,272.66 30.40,270.46" fill="#9a28c8"/>
<polygon points="43.90,270.99 46.10,273.19 43.90,275.39 41.70,273.19" fill="#9a28c8"/>
<polygon points="55.20,277.07 57.40,279.27 55.20,281.47 53.00,279.27" fill="#9a28c8"/>
<polygon points="66.50,277.91 68.70,280.11 66.50,282.31 64.30,280.11" fill="#9a28c8"/>
<polygon points="77.80,278.33 80.00,280.53 77.80,282.73 75.60,280.53" fill="#9a28c8"/>
<polygon points="89.10,270.99 91.30,273.19 89.10,275.39 86.90,273.19" fill="#9a28c8"/>
<polygon points="100.40,271.62 102.60,273.82 100.40,276.02 98.20,273.82" fill="#9a28c8"/>
<polygon points="111.70,273.30 113.90,275.50 111.70,277.70 109.50,275.50" fill="#9a28c8"/>
<polygon points="123.00,273.92 125.20,276.12 123.00,278.32 120.80,276.12" fill="#9a28c8"/>
<polygon points="134.30,275.60 136.50,277.80 134.30,280.00 132.10,277.80" fill="#9a28c8"/>
<polygon points="145.60,271.62 147.80,273.82 145.60,276.02 143.40,273.82" fill="#9a28c8"/>
<polygon points="156.90,266.37 159.10,268.57 156.90,270.77 154.70,268.57" fill="#9a28c8"/>
<polygon points="168.20,263.01 170.40,265.21 168.20,267.41 166.00,265.21" fill="#9a28c8"/>
<polygon points="179.50,259.66 181.70,261.86 179.50,264.06 177.30,261.86" fill="#9a28c8"/>
<polygon points="190.80,255.04 193.00,257.24 190.80,259.44 188.60,257.24" fill="#9a28c8"/>
<g opacity="0.45">
<line x1="123.00" y1="246.75" x2="123.00" y2="253.05" stroke="#1414e6" stroke-width="0.7" stroke-linecap="butt"/>
<line x1="121.70" y1="246.75" x2="124.30" y2="246.75" stroke="#1414e6" stroke-width="0.7" stroke-linecap="butt"/>
<line x1="121.70" y1="253.05" x2="124.30" y2="253.05" stroke="#1414e6" stroke-width="0.7" stroke-linecap="butt"/>
</g>
<polyline points="32.60,270.46 43.90,266.26 55.20,271.51 66.50,269.41 77.80,263.33 89.10,258.29 100.40,253.89 111.70,254.31 123.00,249.90 134.30,250.53 145.60,248.85 156.90,247.59 168.20,246.54 179.50,245.49 190.80,243.61" fill="none" stroke="#1414e6" stroke-width="1.45" stroke-linejoin="miter"/>
<polygon points="32.60,268.26 34.80,272.22 30.40,272.22" fill="#1414e6"/>
<polygon points="43.90,264.06 46.10,268.02 41.70,268.02" fill="#1414e6"/>
<polygon points="55.20,269.31 57.40,273.27 53.00,273.27" fill="#1414e6"/>
<polygon points="66.50,267.21 68.70,271.17 64.30,271.17" fill="#1414e6"/>
<polygon points="77.80,261.13 80.00,265.09 75.60,265.09" fill="#1414e6"/>
<polygon points="89.10,256.09 91.30,260.05 86.90,260.05" fill="#1414e6"/>
<polygon points="100.40,251.69 102.60,255.65 98.20,255.65" fill="#1414e6"/>
<polygon points="111.70,252.11 113.90,256.07 109.50,256.07" fill="#1414e6"/>
<polygon points="123.00,247.70 125.20,251.66 120.80,251.66" fill="#1414e6"/>
<polygon points="134.30,248.33 136.50,252.29 132.10,252.29" fill="#1414e6"/>
<polygon points="145.60,246.65 147.80,250.61 143.40,250.61" fill="#1414e6"/>
<polygon points="156.90,245.39 159.10,249.35 154.70,249.35" fill="#1414e6"/>
<polygon points="168.20,244.34 170.40,248.30 166.00,248.30" fill="#1414e6"/>
<polygon points="179.50,243.29 181.70,247.25 177.30,247.25" fill="#1414e6"/>
<polygon points="190.80,241.41 193.00,245.37 188.60,245.37" fill="#1414e6"/>
<g opacity="0.45">
<line x1="111.70" y1="251.79" x2="111.70" y2="258.08" stroke="#12c412" stroke-width="0.7" stroke-linecap="butt"/>
<line x1="110.40" y1="251.79" x2="113.00" y2="251.79" stroke="#12c412" stroke-width="0.7" stroke-linecap="butt"/>
<line x1="110.40" y1="258.08" x2="113.00" y2="258.08" stroke="#12c412" stroke-width="0.7" stroke-linecap="butt"/>
</g>
<g opacity="0.45">
<line x1="145.60" y1="248.01" x2="145.60" y2="253.05" stroke="#12c412" stroke-width="0.7" stroke-linecap="butt"/>
<line x1="144.30" y1="248.01" x2="146.90" y2="248.01" stroke="#12c412" stroke-width="0.7" stroke-linecap="butt"/>
<line x1="144.30" y1="253.05" x2="146.90" y2="253.05" stroke="#12c412" stroke-width="0.7" stroke-linecap="butt"/>
</g>
<g opacity="0.45">
<line x1="156.90" y1="246.75" x2="156.90" y2="250.95" stroke="#12c412" stroke-width="0.7" stroke-linecap="butt"/>
<line x1="155.60" y1="246.75" x2="158.20" y2="246.75" stroke="#12c412" stroke-width="0.7" stroke-linecap="butt"/>
<line x1="155.60" y1="250.95" x2="158.20" y2="250.95" stroke="#12c412" stroke-width="0.7" stroke-linecap="butt"/>
</g>
<polyline points="32.60,270.46 43.90,266.26 55.20,272.14 66.50,269.83 77.80,263.33 89.10,259.55 100.40,256.61 111.70,254.93 123.00,253.89 134.30,253.47 145.60,250.53 156.90,248.85 168.20,249.27 179.50,248.22 190.80,246.33" fill="none" stroke="#12c412" stroke-width="1.45" stroke-linejoin="miter"/>
<rect x="30.90" y="268.76" width="3.40" height="3.40" fill="#12c412"/>
<rect x="42.20" y="264.56" width="3.40" height="3.40" fill="#12c412"/>
<rect x="53.50" y="270.44" width="3.40" height="3.40" fill="#12c412"/>
<rect x="64.80" y="268.13" width="3.40" height="3.40" fill="#12c412"/>
<rect x="76.10" y="261.63" width="3.40" height="3.40" fill="#12c412"/>
<rect x="87.40" y="257.85" width="3.40" height="3.40" fill="#12c412"/>
<rect x="98.70" y="254.91" width="3.40" height="3.40" fill="#12c412"/>
<rect x="110.00" y="253.23" width="3.40" height="3.40" fill="#12c412"/>
<rect x="121.30" y="252.19" width="3.40" height="3.40" fill="#12c412"/>
<rect x="132.60" y="251.77" width="3.40" height="3.40" fill="#12c412"/>
<rect x="143.90" y="248.83" width="3.40" height="3.40" fill="#12c412"/>
<rect x="155.20" y="247.15" width="3.40" height="3.40" fill="#12c412"/>
<rect x="166.50" y="247.57" width="3.40" height="3.40" fill="#12c412"/>
<rect x="177.80" y="246.52" width="3.40" height="3.40" fill="#12c412"/>
<rect x="189.10" y="244.63" width="3.40" height="3.40" fill="#12c412"/>
<g opacity="0.45">
<line x1="77.80" y1="294.80" x2="77.80" y2="303.19" stroke="#929292" stroke-width="0.7" stroke-linecap="butt"/>
<line x1="76.50" y1="294.80" x2="79.10" y2="294.80" stroke="#929292" stroke-width="0.7" stroke-linecap="butt"/>
<line x1="76.50" y1="303.19" x2="79.10" y2="303.19" stroke="#929292" stroke-width="0.7" stroke-linecap="butt"/>
</g>
<g opacity="0.45">
<line x1="89.10" y1="294.17" x2="89.10" y2="315.15" stroke="#929292" stroke-width="0.7" stroke-linecap="butt"/>
<line x1="87.80" y1="294.17" x2="90.40" y2="294.17" stroke="#929292" stroke-width="0.7" stroke-linecap="butt"/>
<line x1="87.80" y1="315.15" x2="90.40" y2="315.15" stroke="#929292" stroke-width="0.7" stroke-linecap="butt"/>
</g>
<g opacity="0.45">
<line x1="100.40" y1="278.85" x2="100.40" y2="287.24" stroke="#929292" stroke-width="0.7" stroke-linecap="butt"/>
<line x1="99.10" y1="278.85" x2="101.70" y2="278.85" stroke="#929292" stroke-width="0.7" stroke-linecap="butt"/>
<line x1="99.10" y1="287.24" x2="101.70" y2="287.24" stroke="#929292" stroke-width="0.7" stroke-linecap="butt"/>
</g>
<g opacity="0.45">
<line x1="111.70" y1="295.01" x2="111.70" y2="303.40" stroke="#929292" stroke-width="0.7" stroke-linecap="butt"/>
<line x1="110.40" y1="295.01" x2="113.00" y2="295.01" stroke="#929292" stroke-width="0.7" stroke-linecap="butt"/>
<line x1="110.40" y1="303.40" x2="113.00" y2="303.40" stroke="#929292" stroke-width="0.7" stroke-linecap="butt"/>
</g>
<polyline points="32.60,270.46 43.90,264.59 55.20,273.19 66.50,288.50 77.80,298.99 89.10,304.66 100.40,283.05 111.70,299.20 123.00,311.16 134.30,320.18 134.30,332.90" fill="none" stroke="#929292" stroke-width="1.2" stroke-dasharray="3.2,2.2" stroke-linejoin="miter"/>
<circle cx="32.60" cy="270.46" r="1.85" fill="#929292"/>
<circle cx="43.90" cy="264.59" r="1.85" fill="#929292"/>
<circle cx="55.20" cy="273.19" r="1.85" fill="#929292"/>
<circle cx="66.50" cy="288.50" r="1.85" fill="#929292"/>
<circle cx="77.80" cy="298.99" r="1.85" fill="#929292"/>
<circle cx="89.10" cy="304.66" r="1.85" fill="#929292"/>
<circle cx="100.40" cy="283.05" r="1.85" fill="#929292"/>
<circle cx="111.70" cy="299.20" r="1.85" fill="#929292"/>
<circle cx="123.00" cy="311.16" r="1.85" fill="#929292"/>
<circle cx="134.30" cy="320.18" r="1.85" fill="#929292"/>
<line x1="32.60" y1="413.20" x2="32.60" y2="520.00" stroke="#2a2a2a" stroke-width="1.2" stroke-linecap="butt"/>
<line x1="32.00" y1="519.40" x2="191.30" y2="519.40" stroke="#2a2a2a" stroke-width="1.2" stroke-linecap="butt"/>
<line x1="29.20" y1="519.40" x2="32.60" y2="519.40" stroke="#2a2a2a" stroke-width="1.2" stroke-linecap="butt"/>
<text x="28.00" y="522.30" font-size="7.7" text-anchor="end" font-weight="bold" fill="#000" stroke="#000" stroke-width="0.2" transform="translate(0 -41.784) scale(1 1.08)">70</text>
<line x1="29.20" y1="498.26" x2="32.60" y2="498.26" stroke="#2a2a2a" stroke-width="1.2" stroke-linecap="butt"/>
<text x="28.00" y="501.16" font-size="7.7" text-anchor="end" font-weight="bold" fill="#000" stroke="#000" stroke-width="0.2" transform="translate(0 -40.093) scale(1 1.08)">80</text>
<line x1="29.20" y1="477.12" x2="32.60" y2="477.12" stroke="#2a2a2a" stroke-width="1.2" stroke-linecap="butt"/>
<text x="28.00" y="480.02" font-size="7.7" text-anchor="end" font-weight="bold" fill="#000" stroke="#000" stroke-width="0.2" transform="translate(0 -38.402) scale(1 1.08)">90</text>
<line x1="29.20" y1="455.98" x2="32.60" y2="455.98" stroke="#2a2a2a" stroke-width="1.2" stroke-linecap="butt"/>
<text x="28.00" y="458.88" font-size="7.7" text-anchor="end" font-weight="bold" fill="#000" stroke="#000" stroke-width="0.2" transform="translate(0 -36.710) scale(1 1.08)">100</text>
<line x1="29.20" y1="434.84" x2="32.60" y2="434.84" stroke="#2a2a2a" stroke-width="1.2" stroke-linecap="butt"/>
<text x="28.00" y="437.74" font-size="7.7" text-anchor="end" font-weight="bold" fill="#000" stroke="#000" stroke-width="0.2" transform="translate(0 -35.019) scale(1 1.08)">110</text>
<line x1="29.20" y1="413.70" x2="32.60" y2="413.70" stroke="#2a2a2a" stroke-width="1.2" stroke-linecap="butt"/>
<text x="28.00" y="416.60" font-size="7.7" text-anchor="end" font-weight="bold" fill="#000" stroke="#000" stroke-width="0.2" transform="translate(0 -33.328) scale(1 1.08)">120</text>
<line x1="32.60" y1="519.40" x2="32.60" y2="522.40" stroke="#2a2a2a" stroke-width="1.1" stroke-linecap="butt"/>
<text x="32.60" y="531.20" font-size="7.7" text-anchor="middle" font-weight="bold" fill="#000" stroke="#000" stroke-width="0.2" transform="translate(0 -42.496) scale(1 1.08)">0</text>
<line x1="55.20" y1="519.40" x2="55.20" y2="522.40" stroke="#2a2a2a" stroke-width="1.1" stroke-linecap="butt"/>
<text x="55.20" y="531.20" font-size="7.7" text-anchor="middle" font-weight="bold" fill="#000" stroke="#000" stroke-width="0.2" transform="translate(0 -42.496) scale(1 1.08)">2</text>
<line x1="77.80" y1="519.40" x2="77.80" y2="522.40" stroke="#2a2a2a" stroke-width="1.1" stroke-linecap="butt"/>
<text x="77.80" y="531.20" font-size="7.7" text-anchor="middle" font-weight="bold" fill="#000" stroke="#000" stroke-width="0.2" transform="translate(0 -42.496) scale(1 1.08)">4</text>
<line x1="100.40" y1="519.40" x2="100.40" y2="522.40" stroke="#2a2a2a" stroke-width="1.1" stroke-linecap="butt"/>
<text x="100.40" y="531.20" font-size="7.7" text-anchor="middle" font-weight="bold" fill="#000" stroke="#000" stroke-width="0.2" transform="translate(0 -42.496) scale(1 1.08)">6</text>
<line x1="123.00" y1="519.40" x2="123.00" y2="522.40" stroke="#2a2a2a" stroke-width="1.1" stroke-linecap="butt"/>
<text x="123.00" y="531.20" font-size="7.7" text-anchor="middle" font-weight="bold" fill="#000" stroke="#000" stroke-width="0.2" transform="translate(0 -42.496) scale(1 1.08)">8</text>
<line x1="145.60" y1="519.40" x2="145.60" y2="522.40" stroke="#2a2a2a" stroke-width="1.1" stroke-linecap="butt"/>
<text x="145.60" y="531.20" font-size="7.7" text-anchor="middle" font-weight="bold" fill="#000" stroke="#000" stroke-width="0.2" transform="translate(0 -42.496) scale(1 1.08)">10</text>
<line x1="168.20" y1="519.40" x2="168.20" y2="522.40" stroke="#2a2a2a" stroke-width="1.1" stroke-linecap="butt"/>
<text x="168.20" y="531.20" font-size="7.7" text-anchor="middle" font-weight="bold" fill="#000" stroke="#000" stroke-width="0.2" transform="translate(0 -42.496) scale(1 1.08)">12</text>
<line x1="190.80" y1="519.40" x2="190.80" y2="522.40" stroke="#2a2a2a" stroke-width="1.1" stroke-linecap="butt"/>
<text x="190.80" y="531.20" font-size="7.7" text-anchor="middle" font-weight="bold" fill="#000" stroke="#000" stroke-width="0.2" transform="translate(0 -42.496) scale(1 1.08)">14</text>
<text x="111.70" y="544.40" font-size="8.5" text-anchor="middle" font-weight="bold" fill="#000" stroke="#000" stroke-width="0.2">Days post infection</text>
<text x="10.90" y="468.85" font-size="8.5" text-anchor="middle" font-weight="bold" fill="#000" stroke="#000" stroke-width="0.2" transform="rotate(-90 10.9 468.84999999999997)">Body weight (%)</text>
<g opacity="0.45">
<line x1="89.10" y1="496.36" x2="89.10" y2="502.70" stroke="#f5a138" stroke-width="0.7" stroke-linecap="butt"/>
<line x1="87.80" y1="496.36" x2="90.40" y2="496.36" stroke="#f5a138" stroke-width="0.7" stroke-linecap="butt"/>
<line x1="87.80" y1="502.70" x2="90.40" y2="502.70" stroke="#f5a138" stroke-width="0.7" stroke-linecap="butt"/>
</g>
<polyline points="32.60,455.98 43.90,458.31 55.20,472.05 66.50,485.79 77.80,498.26 89.10,499.53 100.40,486.42 111.70,488.11 123.00,471.41 134.30,462.96 145.60,460.63 156.90,456.83 168.20,454.92 179.50,448.16 190.80,445.41" fill="none" stroke="#f5a138" stroke-width="1.45" stroke-linejoin="miter"/>
<polygon points="32.60,457.98 34.60,454.38 30.60,454.38" fill="#f5a138"/>
<polygon points="43.90,460.31 45.90,456.71 41.90,456.71" fill="#f5a138"/>
<polygon points="55.20,474.05 57.20,470.45 53.20,470.45" fill="#f5a138"/>
<polygon points="66.50,487.79 68.50,484.19 64.50,484.19" fill="#f5a138"/>
<polygon points="77.80,500.26 79.80,496.66 75.80,496.66" fill="#f5a138"/>
<polygon points="89.10,501.53 91.10,497.93 87.10,497.93" fill="#f5a138"/>
<polygon points="100.40,488.42 102.40,484.82 98.40,484.82" fill="#f5a138"/>
<polygon points="111.70,490.11 113.70,486.51 109.70,486.51" fill="#f5a138"/>
<polygon points="123.00,473.41 125.00,469.81 121.00,469.81" fill="#f5a138"/>
<polygon points="134.30,464.96 136.30,461.36 132.30,461.36" fill="#f5a138"/>
<polygon points="145.60,462.63 147.60,459.03 143.60,459.03" fill="#f5a138"/>
<polygon points="156.90,458.83 158.90,455.23 154.90,455.23" fill="#f5a138"/>
<polygon points="168.20,456.92 170.20,453.32 166.20,453.32" fill="#f5a138"/>
<polygon points="179.50,450.16 181.50,446.56 177.50,446.56" fill="#f5a138"/>
<polygon points="190.80,447.41 192.80,443.81 188.80,443.81" fill="#f5a138"/>
<g opacity="0.45">
<line x1="100.40" y1="477.33" x2="100.40" y2="494.24" stroke="#9a28c8" stroke-width="0.7" stroke-linecap="butt"/>
<line x1="99.10" y1="477.33" x2="101.70" y2="477.33" stroke="#9a28c8" stroke-width="0.7" stroke-linecap="butt"/>
<line x1="99.10" y1="494.24" x2="101.70" y2="494.24" stroke="#9a28c8" stroke-width="0.7" stroke-linecap="butt"/>
</g>
<g opacity="0.45">
<line x1="111.70" y1="465.49" x2="111.70" y2="490.86" stroke="#9a28c8" stroke-width="0.7" stroke-linecap="butt"/>
<line x1="110.40" y1="465.49" x2="113.00" y2="465.49" stroke="#9a28c8" stroke-width="0.7" stroke-linecap="butt"/>
<line x1="110.40" y1="490.86" x2="113.00" y2="490.86" stroke="#9a28c8" stroke-width="0.7" stroke-linecap="butt"/>
</g>
<g opacity="0.45">
<line x1="123.00" y1="454.71" x2="123.00" y2="475.85" stroke="#9a28c8" stroke-width="0.7" stroke-linecap="butt"/>
<line x1="121.70" y1="454.71" x2="124.30" y2="454.71" stroke="#9a28c8" stroke-width="0.7" stroke-linecap="butt"/>
<line x1="121.70" y1="475.85" x2="124.30" y2="475.85" stroke="#9a28c8" stroke-width="0.7" stroke-linecap="butt"/>
</g>
<g opacity="0.45">
<line x1="134.30" y1="448.79" x2="134.30" y2="465.70" stroke="#9a28c8" stroke-width="0.7" stroke-linecap="butt"/>
<line x1="133.00" y1="448.79" x2="135.60" y2="448.79" stroke="#9a28c8" stroke-width="0.7" stroke-linecap="butt"/>
<line x1="133.00" y1="465.70" x2="135.60" y2="465.70" stroke="#9a28c8" stroke-width="0.7" stroke-linecap="butt"/>
</g>
<g opacity="0.45">
<line x1="145.60" y1="441.82" x2="145.60" y2="456.61" stroke="#9a28c8" stroke-width="0.7" stroke-linecap="butt"/>
<line x1="144.30" y1="441.82" x2="146.90" y2="441.82" stroke="#9a28c8" stroke-width="0.7" stroke-linecap="butt"/>
<line x1="144.30" y1="456.61" x2="146.90" y2="456.61" stroke="#9a28c8" stroke-width="0.7" stroke-linecap="butt"/>
</g>
<polyline points="32.60,455.98 43.90,453.02 55.20,468.66 66.50,485.79 77.80,493.40 89.10,496.15 100.40,485.79 111.70,478.18 123.00,465.28 134.30,457.25 145.60,449.22 156.90,442.45 168.20,440.55 179.50,435.47 190.80,433.15" fill="none" stroke="#9a28c8" stroke-width="1.45" stroke-linejoin="miter"/>
<polygon points="32.60,453.78 34.80,455.98 32.60,458.18 30.40,455.98" fill="#9a28c8"/>
<polygon points="43.90,450.82 46.10,453.02 43.90,455.22 41.70,453.02" fill="#9a28c8"/>
<polygon points="55.20,466.46 57.40,468.66 55.20,470.86 53.00,468.66" fill="#9a28c8"/>
<polygon points="66.50,483.59 68.70,485.79 66.50,487.99 64.30,485.79" fill="#9a28c8"/>
<polygon points="77.80,491.20 80.00,493.40 77.80,495.60 75.60,493.40" fill="#9a28c8"/>
<polygon points="89.10,493.95 91.30,496.15 89.10,498.35 86.90,496.15" fill="#9a28c8"/>
<polygon points="100.40,483.59 102.60,485.79 100.40,487.99 98.20,485.79" fill="#9a28c8"/>
<polygon points="111.70,475.98 113.90,478.18 111.70,480.38 109.50,478.18" fill="#9a28c8"/>
<polygon points="123.00,463.08 125.20,465.28 123.00,467.48 120.80,465.28" fill="#9a28c8"/>
<polygon points="134.30,455.05 136.50,457.25 134.30,459.45 132.10,457.25" fill="#9a28c8"/>
<polygon points="145.60,447.02 147.80,449.22 145.60,451.42 143.40,449.22" fill="#9a28c8"/>
<polygon points="156.90,440.25 159.10,442.45 156.90,444.65 154.70,442.45" fill="#9a28c8"/>
<polygon points="168.20,438.35 170.40,440.55 168.20,442.75 166.00,440.55" fill="#9a28c8"/>
<polygon points="179.50,433.27 181.70,435.47 179.50,437.67 177.30,435.47" fill="#9a28c8"/>
<polygon points="190.80,430.95 193.00,433.15 190.80,435.35 188.60,433.15" fill="#9a28c8"/>
<g opacity="0.45">
<line x1="100.40" y1="489.38" x2="100.40" y2="502.07" stroke="#12c412" stroke-width="0.7" stroke-linecap="butt"/>
<line x1="99.10" y1="489.38" x2="101.70" y2="489.38" stroke="#12c412" stroke-width="0.7" stroke-linecap="butt"/>
<line x1="99.10" y1="502.07" x2="101.70" y2="502.07" stroke="#12c412" stroke-width="0.7" stroke-linecap="butt"/>
</g>
<g opacity="0.45">
<line x1="134.30" y1="457.67" x2="134.30" y2="470.36" stroke="#12c412" stroke-width="0.7" stroke-linecap="butt"/>
<line x1="133.00" y1="457.67" x2="135.60" y2="457.67" stroke="#12c412" stroke-width="0.7" stroke-linecap="butt"/>
<line x1="133.00" y1="470.36" x2="135.60" y2="470.36" stroke="#12c412" stroke-width="0.7" stroke-linecap="butt"/>
</g>
<g opacity="0.45">
<line x1="145.60" y1="453.44" x2="145.60" y2="461.90" stroke="#12c412" stroke-width="0.7" stroke-linecap="butt"/>
<line x1="144.30" y1="453.44" x2="146.90" y2="453.44" stroke="#12c412" stroke-width="0.7" stroke-linecap="butt"/>
<line x1="144.30" y1="461.90" x2="146.90" y2="461.90" stroke="#12c412" stroke-width="0.7" stroke-linecap="butt"/>
</g>
<g opacity="0.45">
<line x1="156.90" y1="446.68" x2="156.90" y2="453.02" stroke="#12c412" stroke-width="0.7" stroke-linecap="butt"/>
<line x1="155.60" y1="446.68" x2="158.20" y2="446.68" stroke="#12c412" stroke-width="0.7" stroke-linecap="butt"/>
<line x1="155.60" y1="453.02" x2="158.20" y2="453.02" stroke="#12c412" stroke-width="0.7" stroke-linecap="butt"/>
</g>
<g opacity="0.45">
<line x1="179.50" y1="438.22" x2="179.50" y2="446.68" stroke="#12c412" stroke-width="0.7" stroke-linecap="butt"/>
<line x1="178.20" y1="438.22" x2="180.80" y2="438.22" stroke="#12c412" stroke-width="0.7" stroke-linecap="butt"/>
<line x1="178.20" y1="446.68" x2="180.80" y2="446.68" stroke="#12c412" stroke-width="0.7" stroke-linecap="butt"/>
</g>
<g opacity="0.45">
<line x1="190.80" y1="438.86" x2="190.80" y2="447.31" stroke="#12c412" stroke-width="0.7" stroke-linecap="butt"/>
<line x1="189.50" y1="438.86" x2="192.10" y2="438.86" stroke="#12c412" stroke-width="0.7" stroke-linecap="butt"/>
<line x1="189.50" y1="447.31" x2="192.10" y2="447.31" stroke="#12c412" stroke-width="0.7" stroke-linecap="butt"/>
</g>
<polyline points="32.60,455.98 43.90,454.92 55.20,474.37 66.50,490.44 77.80,501.85 89.10,499.53 100.40,495.72 111.70,485.79 123.00,482.83 134.30,464.01 145.60,457.67 156.90,449.85 168.20,445.83 179.50,442.45 190.80,443.08" fill="none" stroke="#12c412" stroke-width="1.45" stroke-linejoin="miter"/>
<rect x="30.90" y="454.28" width="3.40" height="3.40" fill="#12c412"/>
<rect x="42.20" y="453.22" width="3.40" height="3.40" fill="#12c412"/>
<rect x="53.50" y="472.67" width="3.40" height="3.40" fill="#12c412"/>
<rect x="64.80" y="488.74" width="3.40" height="3.40" fill="#12c412"/>
<rect x="76.10" y="500.15" width="3.40" height="3.40" fill="#12c412"/>
<rect x="87.40" y="497.83" width="3.40" height="3.40" fill="#12c412"/>
<rect x="98.70" y="494.02" width="3.40" height="3.40" fill="#12c412"/>
<rect x="110.00" y="484.09" width="3.40" height="3.40" fill="#12c412"/>
<rect x="121.30" y="481.13" width="3.40" height="3.40" fill="#12c412"/>
<rect x="132.60" y="462.31" width="3.40" height="3.40" fill="#12c412"/>
<rect x="143.90" y="455.97" width="3.40" height="3.40" fill="#12c412"/>
<rect x="155.20" y="448.15" width="3.40" height="3.40" fill="#12c412"/>
<rect x="166.50" y="444.13" width="3.40" height="3.40" fill="#12c412"/>
<rect x="177.80" y="440.75" width="3.40" height="3.40" fill="#12c412"/>
<rect x="189.10" y="441.38" width="3.40" height="3.40" fill="#12c412"/>
<polyline points="32.60,455.98 43.90,454.50 55.20,470.57 66.50,484.10 77.80,497.20 89.10,465.92 100.40,456.61 111.70,455.13 123.00,448.16 134.30,438.86 145.60,437.38 156.90,435.05 168.20,435.47 179.50,426.38 190.80,428.08" fill="none" stroke="#1414e6" stroke-width="1.45" stroke-linejoin="miter"/>
<polygon points="32.60,453.78 34.80,457.74 30.40,457.74" fill="#1414e6"/>
<polygon points="43.90,452.30 46.10,456.26 41.70,456.26" fill="#1414e6"/>
<polygon points="55.20,468.37 57.40,472.33 53.00,472.33" fill="#1414e6"/>
<polygon points="66.50,481.90 68.70,485.86 64.30,485.86" fill="#1414e6"/>
<polygon points="77.80,495.00 80.00,498.96 75.60,498.96" fill="#1414e6"/>
<polygon points="89.10,463.72 91.30,467.68 86.90,467.68" fill="#1414e6"/>
<polygon points="100.40,454.41 102.60,458.37 98.20,458.37" fill="#1414e6"/>
<polygon points="111.70,452.93 113.90,456.89 109.50,456.89" fill="#1414e6"/>
<polygon points="123.00,445.96 125.20,449.92 120.80,449.92" fill="#1414e6"/>
<polygon points="134.30,436.66 136.50,440.62 132.10,440.62" fill="#1414e6"/>
<polygon points="145.60,435.18 147.80,439.14 143.40,439.14" fill="#1414e6"/>
<polygon points="156.90,432.85 159.10,436.81 154.70,436.81" fill="#1414e6"/>
<polygon points="168.20,433.27 170.40,437.23 166.00,437.23" fill="#1414e6"/>
<polygon points="179.50,424.18 181.70,428.14 177.30,428.14" fill="#1414e6"/>
<polygon points="190.80,425.88 193.00,429.84 188.60,429.84" fill="#1414e6"/>
<g opacity="0.45">
<line x1="55.20" y1="456.83" x2="55.20" y2="463.17" stroke="#929292" stroke-width="0.7" stroke-linecap="butt"/>
<line x1="53.90" y1="456.83" x2="56.50" y2="456.83" stroke="#929292" stroke-width="0.7" stroke-linecap="butt"/>
<line x1="53.90" y1="463.17" x2="56.50" y2="463.17" stroke="#929292" stroke-width="0.7" stroke-linecap="butt"/>
</g>
<g opacity="0.45">
<line x1="66.50" y1="470.25" x2="66.50" y2="480.82" stroke="#929292" stroke-width="0.7" stroke-linecap="butt"/>
<line x1="65.20" y1="470.25" x2="67.80" y2="470.25" stroke="#929292" stroke-width="0.7" stroke-linecap="butt"/>
<line x1="65.20" y1="480.82" x2="67.80" y2="480.82" stroke="#929292" stroke-width="0.7" stroke-linecap="butt"/>
</g>
<g opacity="0.45">
<line x1="77.80" y1="479.45" x2="77.80" y2="492.13" stroke="#929292" stroke-width="0.7" stroke-linecap="butt"/>
<line x1="76.50" y1="479.45" x2="79.10" y2="479.45" stroke="#929292" stroke-width="0.7" stroke-linecap="butt"/>
<line x1="76.50" y1="492.13" x2="79.10" y2="492.13" stroke="#929292" stroke-width="0.7" stroke-linecap="butt"/>
</g>
<g opacity="0.45">
<line x1="89.10" y1="484.73" x2="89.10" y2="497.41" stroke="#929292" stroke-width="0.7" stroke-linecap="butt"/>
<line x1="87.80" y1="484.73" x2="90.40" y2="484.73" stroke="#929292" stroke-width="0.7" stroke-linecap="butt"/>
<line x1="87.80" y1="497.41" x2="90.40" y2="497.41" stroke="#929292" stroke-width="0.7" stroke-linecap="butt"/>
</g>
<g opacity="0.45">
<line x1="100.40" y1="466.97" x2="100.40" y2="473.31" stroke="#929292" stroke-width="0.7" stroke-linecap="butt"/>
<line x1="99.10" y1="466.97" x2="101.70" y2="466.97" stroke="#929292" stroke-width="0.7" stroke-linecap="butt"/>
<line x1="99.10" y1="473.31" x2="101.70" y2="473.31" stroke="#929292" stroke-width="0.7" stroke-linecap="butt"/>
</g>
<polyline points="32.60,455.98 43.90,450.69 55.20,460.00 66.50,475.53 77.80,485.79 89.10,491.07 100.40,470.14 111.70,498.05 123.00,506.29 123.00,519.40" fill="none" stroke="#929292" stroke-width="1.2" stroke-dasharray="3.2,2.2" stroke-linejoin="miter"/>
<circle cx="32.60" cy="455.98" r="1.85" fill="#929292"/>
<circle cx="43.90" cy="450.69" r="1.85" fill="#929292"/>
<circle cx="55.20" cy="460.00" r="1.85" fill="#929292"/>
<circle cx="66.50" cy="475.53" r="1.85" fill="#929292"/>
<circle cx="77.80" cy="485.79" r="1.85" fill="#929292"/>
<circle cx="89.10" cy="491.07" r="1.85" fill="#929292"/>
<circle cx="100.40" cy="470.14" r="1.85" fill="#929292"/>
<circle cx="111.70" cy="498.05" r="1.85" fill="#929292"/>
<circle cx="123.00" cy="506.29" r="1.85" fill="#929292"/>
<line x1="259.20" y1="38.40" x2="259.20" y2="144.50" stroke="#2a2a2a" stroke-width="1.2" stroke-linecap="butt"/>
<line x1="258.60" y1="143.90" x2="418.50" y2="143.90" stroke="#2a2a2a" stroke-width="1.2" stroke-linecap="butt"/>
<line x1="255.80" y1="143.90" x2="259.20" y2="143.90" stroke="#2a2a2a" stroke-width="1.2" stroke-linecap="butt"/>
<text x="254.80" y="146.80" font-size="7.7" text-anchor="end" font-weight="bold" fill="#000" stroke="#000" stroke-width="0.2" transform="translate(0 -11.744) scale(1 1.08)">0</text>
<line x1="255.80" y1="122.90" x2="259.20" y2="122.90" stroke="#2a2a2a" stroke-width="1.2" stroke-linecap="butt"/>
<text x="254.80" y="125.80" font-size="7.7" text-anchor="end" font-weight="bold" fill="#000" stroke="#000" stroke-width="0.2" transform="translate(0 -10.064) scale(1 1.08)">20</text>
<line x1="255.80" y1="101.90" x2="259.20" y2="101.90" stroke="#2a2a2a" stroke-width="1.2" stroke-linecap="butt"/>
<text x="254.80" y="104.80" font-size="7.7" text-anchor="end" font-weight="bold" fill="#000" stroke="#000" stroke-width="0.2" transform="translate(0 -8.384) scale(1 1.08)">40</text>
<line x1="255.80" y1="80.90" x2="259.20" y2="80.90" stroke="#2a2a2a" stroke-width="1.2" stroke-linecap="butt"/>
<text x="254.80" y="83.80" font-size="7.7" text-anchor="end" font-weight="bold" fill="#000" stroke="#000" stroke-width="0.2" transform="translate(0 -6.704) scale(1 1.08)">60</text>
<line x1="255.80" y1="59.90" x2="259.20" y2="59.90" stroke="#2a2a2a" stroke-width="1.2" stroke-linecap="butt"/>
<text x="254.80" y="62.80" font-size="7.7" text-anchor="end" font-weight="bold" fill="#000" stroke="#000" stroke-width="0.2" transform="translate(0 -5.024) scale(1 1.08)">80</text>
<line x1="255.80" y1="38.90" x2="259.20" y2="38.90" stroke="#2a2a2a" stroke-width="1.2" stroke-linecap="butt"/>
<text x="254.80" y="41.80" font-size="7.7" text-anchor="end" font-weight="bold" fill="#000" stroke="#000" stroke-width="0.2" transform="translate(0 -3.344) scale(1 1.08)">100</text>
<line x1="259.20" y1="143.90" x2="259.20" y2="146.90" stroke="#2a2a2a" stroke-width="1.1" stroke-linecap="butt"/>
<text x="259.20" y="155.70" font-size="7.7" text-anchor="middle" font-weight="bold" fill="#000" stroke="#000" stroke-width="0.2" transform="translate(0 -12.456) scale(1 1.08)">0</text>
<line x1="281.89" y1="143.90" x2="281.89" y2="146.90" stroke="#2a2a2a" stroke-width="1.1" stroke-linecap="butt"/>
<text x="281.89" y="155.70" font-size="7.7" text-anchor="middle" font-weight="bold" fill="#000" stroke="#000" stroke-width="0.2" transform="translate(0 -12.456) scale(1 1.08)">2</text>
<line x1="304.57" y1="143.90" x2="304.57" y2="146.90" stroke="#2a2a2a" stroke-width="1.1" stroke-linecap="butt"/>
<text x="304.57" y="155.70" font-size="7.7" text-anchor="middle" font-weight="bold" fill="#000" stroke="#000" stroke-width="0.2" transform="translate(0 -12.456) scale(1 1.08)">4</text>
<line x1="327.26" y1="143.90" x2="327.26" y2="146.90" stroke="#2a2a2a" stroke-width="1.1" stroke-linecap="butt"/>
<text x="327.26" y="155.70" font-size="7.7" text-anchor="middle" font-weight="bold" fill="#000" stroke="#000" stroke-width="0.2" transform="translate(0 -12.456) scale(1 1.08)">6</text>
<line x1="349.94" y1="143.90" x2="349.94" y2="146.90" stroke="#2a2a2a" stroke-width="1.1" stroke-linecap="butt"/>
<text x="349.94" y="155.70" font-size="7.7" text-anchor="middle" font-weight="bold" fill="#000" stroke="#000" stroke-width="0.2" transform="translate(0 -12.456) scale(1 1.08)">8</text>
<line x1="372.63" y1="143.90" x2="372.63" y2="146.90" stroke="#2a2a2a" stroke-width="1.1" stroke-linecap="butt"/>
<text x="372.63" y="155.70" font-size="7.7" text-anchor="middle" font-weight="bold" fill="#000" stroke="#000" stroke-width="0.2" transform="translate(0 -12.456) scale(1 1.08)">10</text>
<line x1="395.31" y1="143.90" x2="395.31" y2="146.90" stroke="#2a2a2a" stroke-width="1.1" stroke-linecap="butt"/>
<text x="395.31" y="155.70" font-size="7.7" text-anchor="middle" font-weight="bold" fill="#000" stroke="#000" stroke-width="0.2" transform="translate(0 -12.456) scale(1 1.08)">12</text>
<line x1="418.00" y1="143.90" x2="418.00" y2="146.90" stroke="#2a2a2a" stroke-width="1.1" stroke-linecap="butt"/>
<text x="418.00" y="155.70" font-size="7.7" text-anchor="middle" font-weight="bold" fill="#000" stroke="#000" stroke-width="0.2" transform="translate(0 -12.456) scale(1 1.08)">14</text>
<text x="338.60" y="168.40" font-size="8.5" text-anchor="middle" font-weight="bold" fill="#000" stroke="#000" stroke-width="0.2">Days post infection</text>
<text x="237.50" y="92.30" font-size="8.5" text-anchor="middle" font-weight="bold" fill="#000" stroke="#000" stroke-width="0.2" transform="rotate(-90 237.5 92.30000000000001)">Percent survival</text>
<polyline points="259.20,38.90 315.91,38.90 315.91,80.90 327.26,80.90 327.26,122.90 372.63,122.90 372.63,143.90" fill="none" stroke="#929292" stroke-width="1.1" stroke-dasharray="2.6,2.2" stroke-linejoin="miter"/>
<polyline points="259.20,39.42 418.00,39.42" fill="none" stroke="#12c412" stroke-width="1.2" stroke-linejoin="miter"/>
<polyline points="259.20,40.37 418.00,40.37" fill="none" stroke="#1414e6" stroke-width="1.2" stroke-linejoin="miter"/>
<polyline points="259.20,41.84 418.00,41.84" fill="none" stroke="#f5a138" stroke-width="1.2" stroke-linejoin="miter"/>
<polyline points="259.20,43.73 418.00,43.73" fill="none" stroke="#9a28c8" stroke-width="1.2" stroke-linejoin="miter"/>
<polygon points="418.00,41.53 420.20,43.73 418.00,45.93 415.80,43.73" fill="#9a28c8"/>
<polygon points="418.00,43.84 420.00,40.24 416.00,40.24" fill="#f5a138"/>
<polygon points="418.00,38.17 420.20,42.13 415.80,42.13" fill="#1414e6"/>
<rect x="416.30" y="37.72" width="3.40" height="3.40" fill="#12c412"/>
<line x1="441.90" y1="45.30" x2="452.90" y2="45.30" stroke="#929292" stroke-width="1.1" stroke-dasharray="2.2,1.8" stroke-linecap="butt"/>
<circle cx="447.40" cy="45.30" r="1.94" fill="#929292"/>
<text x="459.70" y="48.15" font-size="7.7" text-anchor="start" font-weight="bold" fill="#000" stroke="#000" stroke-width="0.2" transform="translate(0 -3.852) scale(1 1.08)">PBS</text>
<line x1="441.90" y1="59.55" x2="452.90" y2="59.55" stroke="#12c412" stroke-width="1.4" stroke-linecap="butt"/>
<rect x="445.61" y="57.77" width="3.57" height="3.57" fill="#12c412"/>
<text x="459.70" y="62.40" font-size="7.7" text-anchor="start" font-weight="bold" fill="#000" stroke="#000" stroke-width="0.2" transform="translate(0 -4.992) scale(1 1.08)">IP G2.3-Fc 2h</text>
<line x1="441.90" y1="73.80" x2="452.90" y2="73.80" stroke="#1414e6" stroke-width="1.4" stroke-linecap="butt"/>
<polygon points="447.40,71.49 449.71,75.65 445.09,75.65" fill="#1414e6"/>
<text x="459.70" y="76.65" font-size="7.7" text-anchor="start" font-weight="bold" fill="#000" stroke="#000" stroke-width="0.2" transform="translate(0 -6.132) scale(1 1.08)">IP H1.2-Fc 2h</text>
<line x1="441.90" y1="88.05" x2="452.90" y2="88.05" stroke="#f5a138" stroke-width="1.4" stroke-linecap="butt"/>
<polygon points="447.40,90.15 449.50,86.37 445.30,86.37" fill="#f5a138"/>
<text x="459.70" y="90.90" font-size="7.7" text-anchor="start" font-weight="bold" fill="#000" stroke="#000" stroke-width="0.2" transform="translate(0 -7.272) scale(1 1.08)">IN G2.3-Fc 2h</text>
<line x1="441.90" y1="102.30" x2="452.90" y2="102.30" stroke="#9a28c8" stroke-width="1.4" stroke-linecap="butt"/>
<polygon points="447.40,99.99 449.71,102.30 447.40,104.61 445.09,102.30" fill="#9a28c8"/>
<text x="459.70" y="105.15" font-size="7.7" text-anchor="start" font-weight="bold" fill="#000" stroke="#000" stroke-width="0.2" transform="translate(0 -8.412) scale(1 1.08)">IN H1.2-Fc 2h</text>
<line x1="259.20" y1="227.40" x2="259.20" y2="333.50" stroke="#2a2a2a" stroke-width="1.2" stroke-linecap="butt"/>
<line x1="258.60" y1="332.90" x2="418.50" y2="332.90" stroke="#2a2a2a" stroke-width="1.2" stroke-linecap="butt"/>
<line x1="255.80" y1="332.90" x2="259.20" y2="332.90" stroke="#2a2a2a" stroke-width="1.2" stroke-linecap="butt"/>
<text x="254.80" y="335.80" font-size="7.7" text-anchor="end" font-weight="bold" fill="#000" stroke="#000" stroke-width="0.2" transform="translate(0 -26.864) scale(1 1.08)">0</text>
<line x1="255.80" y1="311.90" x2="259.20" y2="311.90" stroke="#2a2a2a" stroke-width="1.2" stroke-linecap="butt"/>
<text x="254.80" y="314.80" font-size="7.7" text-anchor="end" font-weight="bold" fill="#000" stroke="#000" stroke-width="0.2" transform="translate(0 -25.184) scale(1 1.08)">20</text>
<line x1="255.80" y1="290.90" x2="259.20" y2="290.90" stroke="#2a2a2a" stroke-width="1.2" stroke-linecap="butt"/>
<text x="254.80" y="293.80" font-size="7.7" text-anchor="end" font-weight="bold" fill="#000" stroke="#000" stroke-width="0.2" transform="translate(0 -23.504) scale(1 1.08)">40</text>
<line x1="255.80" y1="269.90" x2="259.20" y2="269.90" stroke="#2a2a2a" stroke-width="1.2" stroke-linecap="butt"/>
<text x="254.80" y="272.80" font-size="7.7" text-anchor="end" font-weight="bold" fill="#000" stroke="#000" stroke-width="0.2" transform="translate(0 -21.824) scale(1 1.08)">60</text>
<line x1="255.80" y1="248.90" x2="259.20" y2="248.90" stroke="#2a2a2a" stroke-width="1.2" stroke-linecap="butt"/>
<text x="254.80" y="251.80" font-size="7.7" text-anchor="end" font-weight="bold" fill="#000" stroke="#000" stroke-width="0.2" transform="translate(0 -20.144) scale(1 1.08)">80</text>
<line x1="255.80" y1="227.90" x2="259.20" y2="227.90" stroke="#2a2a2a" stroke-width="1.2" stroke-linecap="butt"/>
<text x="254.80" y="230.80" font-size="7.7" text-anchor="end" font-weight="bold" fill="#000" stroke="#000" stroke-width="0.2" transform="translate(0 -18.464) scale(1 1.08)">100</text>
<line x1="259.20" y1="332.90" x2="259.20" y2="335.90" stroke="#2a2a2a" stroke-width="1.1" stroke-linecap="butt"/>
<text x="259.20" y="344.70" font-size="7.7" text-anchor="middle" font-weight="bold" fill="#000" stroke="#000" stroke-width="0.2" transform="translate(0 -27.576) scale(1 1.08)">0</text>
<line x1="281.89" y1="332.90" x2="281.89" y2="335.90" stroke="#2a2a2a" stroke-width="1.1" stroke-linecap="butt"/>
<text x="281.89" y="344.70" font-size="7.7" text-anchor="middle" font-weight="bold" fill="#000" stroke="#000" stroke-width="0.2" transform="translate(0 -27.576) scale(1 1.08)">2</text>
<line x1="304.57" y1="332.90" x2="304.57" y2="335.90" stroke="#2a2a2a" stroke-width="1.1" stroke-linecap="butt"/>
<text x="304.57" y="344.70" font-size="7.7" text-anchor="middle" font-weight="bold" fill="#000" stroke="#000" stroke-width="0.2" transform="translate(0 -27.576) scale(1 1.08)">4</text>
<line x1="327.26" y1="332.90" x2="327.26" y2="335.90" stroke="#2a2a2a" stroke-width="1.1" stroke-linecap="butt"/>
<text x="327.26" y="344.70" font-size="7.7" text-anchor="middle" font-weight="bold" fill="#000" stroke="#000" stroke-width="0.2" transform="translate(0 -27.576) scale(1 1.08)">6</text>
<line x1="349.94" y1="332.90" x2="349.94" y2="335.90" stroke="#2a2a2a" stroke-width="1.1" stroke-linecap="butt"/>
<text x="349.94" y="344.70" font-size="7.7" text-anchor="middle" font-weight="bold" fill="#000" stroke="#000" stroke-width="0.2" transform="translate(0 -27.576) scale(1 1.08)">8</text>
<line x1="372.63" y1="332.90" x2="372.63" y2="335.90" stroke="#2a2a2a" stroke-width="1.1" stroke-linecap="butt"/>
<text x="372.63" y="344.70" font-size="7.7" text-anchor="middle" font-weight="bold" fill="#000" stroke="#000" stroke-width="0.2" transform="translate(0 -27.576) scale(1 1.08)">10</text>
<line x1="395.31" y1="332.90" x2="395.31" y2="335.90" stroke="#2a2a2a" stroke-width="1.1" stroke-linecap="butt"/>
<text x="395.31" y="344.70" font-size="7.7" text-anchor="middle" font-weight="bold" fill="#000" stroke="#000" stroke-width="0.2" transform="translate(0 -27.576) scale(1 1.08)">12</text>
<line x1="418.00" y1="332.90" x2="418.00" y2="335.90" stroke="#2a2a2a" stroke-width="1.1" stroke-linecap="butt"/>
<text x="418.00" y="344.70" font-size="7.7" text-anchor="middle" font-weight="bold" fill="#000" stroke="#000" stroke-width="0.2" transform="translate(0 -27.576) scale(1 1.08)">14</text>
<text x="338.60" y="357.90" font-size="8.5" text-anchor="middle" font-weight="bold" fill="#000" stroke="#000" stroke-width="0.2">Days post infection</text>
<text x="237.50" y="282.40" font-size="8.5" text-anchor="middle" font-weight="bold" fill="#000" stroke="#000" stroke-width="0.2" transform="rotate(-90 237.5 282.4)">Percent survival</text>
<polyline points="259.20,227.90 315.91,227.90 315.91,269.90 327.26,269.90 327.26,311.90 372.63,311.90 372.63,332.90" fill="none" stroke="#929292" stroke-width="1.1" stroke-dasharray="2.6,2.2" stroke-linejoin="miter"/>
<polyline points="259.20,227.90 361.29,227.90 361.29,248.90 418.00,248.90 418.00,248.90" fill="none" stroke="#f5a138" stroke-width="1.2" stroke-linejoin="miter"/>
<polyline points="259.20,228.95 418.00,228.95" fill="none" stroke="#12c412" stroke-width="1.2" stroke-linejoin="miter"/>
<polyline points="259.20,230.63 314.21,230.63 314.21,250.37 418.00,250.37 418.00,250.37" fill="none" stroke="#9a28c8" stroke-width="1.2" stroke-linejoin="miter"/>
<polyline points="259.20,230.63 418.00,230.63" fill="none" stroke="#1414e6" stroke-width="1.2" stroke-linejoin="miter"/>
<polygon points="418.00,248.17 420.20,250.37 418.00,252.57 415.80,250.37" fill="#9a28c8"/>
<polygon points="418.00,250.90 420.00,247.30 416.00,247.30" fill="#f5a138"/>
<polygon points="418.00,228.43 420.20,232.39 415.80,232.39" fill="#1414e6"/>
<rect x="416.30" y="227.25" width="3.40" height="3.40" fill="#12c412"/>
<line x1="442.00" y1="234.30" x2="453.00" y2="234.30" stroke="#929292" stroke-width="1.1" stroke-dasharray="2.2,1.8" stroke-linecap="butt"/>
<circle cx="447.50" cy="234.30" r="1.94" fill="#929292"/>
<text x="459.80" y="237.15" font-size="7.7" text-anchor="start" font-weight="bold" fill="#000" stroke="#000" stroke-width="0.2" transform="translate(0 -18.972) scale(1 1.08)">PBS</text>
<line x1="442.00" y1="248.55" x2="453.00" y2="248.55" stroke="#12c412" stroke-width="1.4" stroke-linecap="butt"/>
<rect x="445.71" y="246.77" width="3.57" height="3.57" fill="#12c412"/>
<text x="459.80" y="251.40" font-size="7.7" text-anchor="start" font-weight="bold" fill="#000" stroke="#000" stroke-width="0.2" transform="translate(0 -20.112) scale(1 1.08)">IP G2.3-Fc 8h</text>
<line x1="442.00" y1="262.80" x2="453.00" y2="262.80" stroke="#1414e6" stroke-width="1.4" stroke-linecap="butt"/>
<polygon points="447.50,260.49 449.81,264.65 445.19,264.65" fill="#1414e6"/>
<text x="459.80" y="265.65" font-size="7.7" text-anchor="start" font-weight="bold" fill="#000" stroke="#000" stroke-width="0.2" transform="translate(0 -21.252) scale(1 1.08)">IP H1.2-Fc 8h</text>
<line x1="442.00" y1="277.05" x2="453.00" y2="277.05" stroke="#f5a138" stroke-width="1.4" stroke-linecap="butt"/>
<polygon points="447.50,279.15 449.60,275.37 445.40,275.37" fill="#f5a138"/>
<text x="459.80" y="279.90" font-size="7.7" text-anchor="start" font-weight="bold" fill="#000" stroke="#000" stroke-width="0.2" transform="translate(0 -22.392) scale(1 1.08)">IN G2.3-Fc 8h</text>
<line x1="442.00" y1="291.30" x2="453.00" y2="291.30" stroke="#9a28c8" stroke-width="1.4" stroke-linecap="butt"/>
<polygon points="447.50,288.99 449.81,291.30 447.50,293.61 445.19,291.30" fill="#9a28c8"/>
<text x="459.80" y="294.15" font-size="7.7" text-anchor="start" font-weight="bold" fill="#000" stroke="#000" stroke-width="0.2" transform="translate(0 -23.532) scale(1 1.08)">IN H1.2-Fc 8h</text>
<line x1="428.50" y1="226.90" x2="428.50" y2="253.50" stroke="#000" stroke-width="1.1" stroke-linecap="butt"/>
<text x="426.90" y="240.90" font-size="7.2" text-anchor="middle" font-weight="bold" fill="#000" stroke="#000" stroke-width="0.2" transform="rotate(-90 426.9 240.89999999999998)">ns</text>
<line x1="259.20" y1="411.20" x2="259.20" y2="517.90" stroke="#2a2a2a" stroke-width="1.2" stroke-linecap="butt"/>
<line x1="258.60" y1="517.30" x2="419.60" y2="517.30" stroke="#2a2a2a" stroke-width="1.2" stroke-linecap="butt"/>
<line x1="255.80" y1="517.30" x2="259.20" y2="517.30" stroke="#2a2a2a" stroke-width="1.2" stroke-linecap="butt"/>
<text x="254.80" y="520.20" font-size="7.7" text-anchor="end" font-weight="bold" fill="#000" stroke="#000" stroke-width="0.2" transform="translate(0 -41.616) scale(1 1.08)">0</text>
<line x1="255.80" y1="496.18" x2="259.20" y2="496.18" stroke="#2a2a2a" stroke-width="1.2" stroke-linecap="butt"/>
<text x="254.80" y="499.08" font-size="7.7" text-anchor="end" font-weight="bold" fill="#000" stroke="#000" stroke-width="0.2" transform="translate(0 -39.926) scale(1 1.08)">20</text>
<line x1="255.80" y1="475.06" x2="259.20" y2="475.06" stroke="#2a2a2a" stroke-width="1.2" stroke-linecap="butt"/>
<text x="254.80" y="477.96" font-size="7.7" text-anchor="end" font-weight="bold" fill="#000" stroke="#000" stroke-width="0.2" transform="translate(0 -38.237) scale(1 1.08)">40</text>
<line x1="255.80" y1="453.94" x2="259.20" y2="453.94" stroke="#2a2a2a" stroke-width="1.2" stroke-linecap="butt"/>
<text x="254.80" y="456.84" font-size="7.7" text-anchor="end" font-weight="bold" fill="#000" stroke="#000" stroke-width="0.2" transform="translate(0 -36.547) scale(1 1.08)">60</text>
<line x1="255.80" y1="432.82" x2="259.20" y2="432.82" stroke="#2a2a2a" stroke-width="1.2" stroke-linecap="butt"/>
<text x="254.80" y="435.72" font-size="7.7" text-anchor="end" font-weight="bold" fill="#000" stroke="#000" stroke-width="0.2" transform="translate(0 -34.858) scale(1 1.08)">80</text>
<line x1="255.80" y1="411.70" x2="259.20" y2="411.70" stroke="#2a2a2a" stroke-width="1.2" stroke-linecap="butt"/>
<text x="254.80" y="414.60" font-size="7.7" text-anchor="end" font-weight="bold" fill="#000" stroke="#000" stroke-width="0.2" transform="translate(0 -33.168) scale(1 1.08)">100</text>
<line x1="259.20" y1="517.30" x2="259.20" y2="520.30" stroke="#2a2a2a" stroke-width="1.1" stroke-linecap="butt"/>
<text x="259.20" y="529.80" font-size="7.7" text-anchor="middle" font-weight="bold" fill="#000" stroke="#000" stroke-width="0.2" transform="translate(0 -42.384) scale(1 1.08)">0</text>
<line x1="282.04" y1="517.30" x2="282.04" y2="520.30" stroke="#2a2a2a" stroke-width="1.1" stroke-linecap="butt"/>
<text x="282.04" y="529.80" font-size="7.7" text-anchor="middle" font-weight="bold" fill="#000" stroke="#000" stroke-width="0.2" transform="translate(0 -42.384) scale(1 1.08)">2</text>
<line x1="304.89" y1="517.30" x2="304.89" y2="520.30" stroke="#2a2a2a" stroke-width="1.1" stroke-linecap="butt"/>
<text x="304.89" y="529.80" font-size="7.7" text-anchor="middle" font-weight="bold" fill="#000" stroke="#000" stroke-width="0.2" transform="translate(0 -42.384) scale(1 1.08)">4</text>
<line x1="327.73" y1="517.30" x2="327.73" y2="520.30" stroke="#2a2a2a" stroke-width="1.1" stroke-linecap="butt"/>
<text x="327.73" y="529.80" font-size="7.7" text-anchor="middle" font-weight="bold" fill="#000" stroke="#000" stroke-width="0.2" transform="translate(0 -42.384) scale(1 1.08)">6</text>
<line x1="350.57" y1="517.30" x2="350.57" y2="520.30" stroke="#2a2a2a" stroke-width="1.1" stroke-linecap="butt"/>
<text x="350.57" y="529.80" font-size="7.7" text-anchor="middle" font-weight="bold" fill="#000" stroke="#000" stroke-width="0.2" transform="translate(0 -42.384) scale(1 1.08)">8</text>
<line x1="373.41" y1="517.30" x2="373.41" y2="520.30" stroke="#2a2a2a" stroke-width="1.1" stroke-linecap="butt"/>
<text x="373.41" y="529.80" font-size="7.7" text-anchor="middle" font-weight="bold" fill="#000" stroke="#000" stroke-width="0.2" transform="translate(0 -42.384) scale(1 1.08)">10</text>
<line x1="396.26" y1="517.30" x2="396.26" y2="520.30" stroke="#2a2a2a" stroke-width="1.1" stroke-linecap="butt"/>
<text x="396.26" y="529.80" font-size="7.7" text-anchor="middle" font-weight="bold" fill="#000" stroke="#000" stroke-width="0.2" transform="translate(0 -42.384) scale(1 1.08)">12</text>
<line x1="419.10" y1="517.30" x2="419.10" y2="520.30" stroke="#2a2a2a" stroke-width="1.1" stroke-linecap="butt"/>
<text x="419.10" y="529.80" font-size="7.7" text-anchor="middle" font-weight="bold" fill="#000" stroke="#000" stroke-width="0.2" transform="translate(0 -42.384) scale(1 1.08)">14</text>
<text x="339.15" y="542.30" font-size="8.65" text-anchor="middle" font-weight="bold" fill="#000" stroke="#000" stroke-width="0.2">Days post infection</text>
<text x="237.50" y="464.50" font-size="8.5" text-anchor="middle" font-weight="bold" fill="#000" stroke="#000" stroke-width="0.2" transform="rotate(-90 237.5 464.5)">Percent survival</text>
<polyline points="259.20,417.40 316.31,417.40 316.31,438.94 327.73,438.94 327.73,481.50 419.10,481.50 419.10,481.50" fill="none" stroke="#9a28c8" stroke-width="1.2" stroke-linejoin="miter"/>
<polyline points="259.20,415.92 316.31,415.92 316.31,458.59 327.73,458.59 327.73,501.14 419.10,501.14 419.10,501.14" fill="none" stroke="#f5a138" stroke-width="1.2" stroke-linejoin="miter"/>
<polyline points="259.20,414.23 316.31,414.23 316.31,500.19 419.10,500.19 419.10,500.19" fill="none" stroke="#1414e6" stroke-width="1.2" stroke-linejoin="miter"/>
<polyline points="259.20,412.54 316.31,412.54 316.31,477.07 419.10,477.07 419.10,477.07" fill="none" stroke="#12c412" stroke-width="1.2" stroke-linejoin="miter"/>
<polyline points="259.20,411.70 316.31,411.70 316.31,453.94 327.73,453.94 327.73,496.18 373.41,496.18 373.41,517.30" fill="none" stroke="#929292" stroke-width="1.1" stroke-dasharray="2.6,2.2" stroke-linejoin="miter"/>
<polygon points="419.10,479.30 421.30,481.50 419.10,483.70 416.90,481.50" fill="#9a28c8"/>
<polygon points="419.10,503.14 421.10,499.54 417.10,499.54" fill="#f5a138"/>
<polygon points="419.10,497.99 421.30,501.95 416.90,501.95" fill="#1414e6"/>
<rect x="417.40" y="475.37" width="3.40" height="3.40" fill="#12c412"/>
<line x1="443.80" y1="418.10" x2="454.80" y2="418.10" stroke="#929292" stroke-width="1.1" stroke-dasharray="2.2,1.8" stroke-linecap="butt"/>
<circle cx="449.30" cy="418.10" r="1.94" fill="#929292"/>
<text x="461.60" y="420.95" font-size="7.7" text-anchor="start" font-weight="bold" fill="#000" stroke="#000" stroke-width="0.2" transform="translate(0 -33.676) scale(1 1.08)">PBS</text>
<line x1="443.80" y1="432.35" x2="454.80" y2="432.35" stroke="#12c412" stroke-width="1.4" stroke-linecap="butt"/>
<rect x="447.51" y="430.56" width="3.57" height="3.57" fill="#12c412"/>
<text x="461.60" y="435.20" font-size="7.7" text-anchor="start" font-weight="bold" fill="#000" stroke="#000" stroke-width="0.2" transform="translate(0 -34.816) scale(1 1.08)">IP G2.3-Fc 24h</text>
<line x1="443.80" y1="446.60" x2="454.80" y2="446.60" stroke="#1414e6" stroke-width="1.4" stroke-linecap="butt"/>
<polygon points="449.30,444.29 451.61,448.45 446.99,448.45" fill="#1414e6"/>
<text x="461.60" y="449.45" font-size="7.7" text-anchor="start" font-weight="bold" fill="#000" stroke="#000" stroke-width="0.2" transform="translate(0 -35.956) scale(1 1.08)">IP H1.2-Fc 24h</text>
<line x1="443.80" y1="460.85" x2="454.80" y2="460.85" stroke="#f5a138" stroke-width="1.4" stroke-linecap="butt"/>
<polygon points="449.30,462.95 451.40,459.17 447.20,459.17" fill="#f5a138"/>
<text x="461.60" y="463.70" font-size="7.7" text-anchor="start" font-weight="bold" fill="#000" stroke="#000" stroke-width="0.2" transform="translate(0 -37.096) scale(1 1.08)">IN G2.3-Fc 24h</text>
<line x1="443.80" y1="475.10" x2="454.80" y2="475.10" stroke="#9a28c8" stroke-width="1.4" stroke-linecap="butt"/>
<polygon points="449.30,472.79 451.61,475.10 449.30,477.41 446.99,475.10" fill="#9a28c8"/>
<text x="461.60" y="477.95" font-size="7.7" text-anchor="start" font-weight="bold" fill="#000" stroke="#000" stroke-width="0.2" transform="translate(0 -38.236) scale(1 1.08)">IN H1.2-Fc 24h</text>
<line x1="431.60" y1="476.00" x2="431.60" y2="502.60" stroke="#000" stroke-width="1.1" stroke-linecap="butt"/>
<text x="430.00" y="489.30" font-size="7.2" text-anchor="middle" font-weight="bold" fill="#000" stroke="#000" stroke-width="0.2" transform="rotate(-90 430.0 489.3)">ns</text>
</svg></body></html>
